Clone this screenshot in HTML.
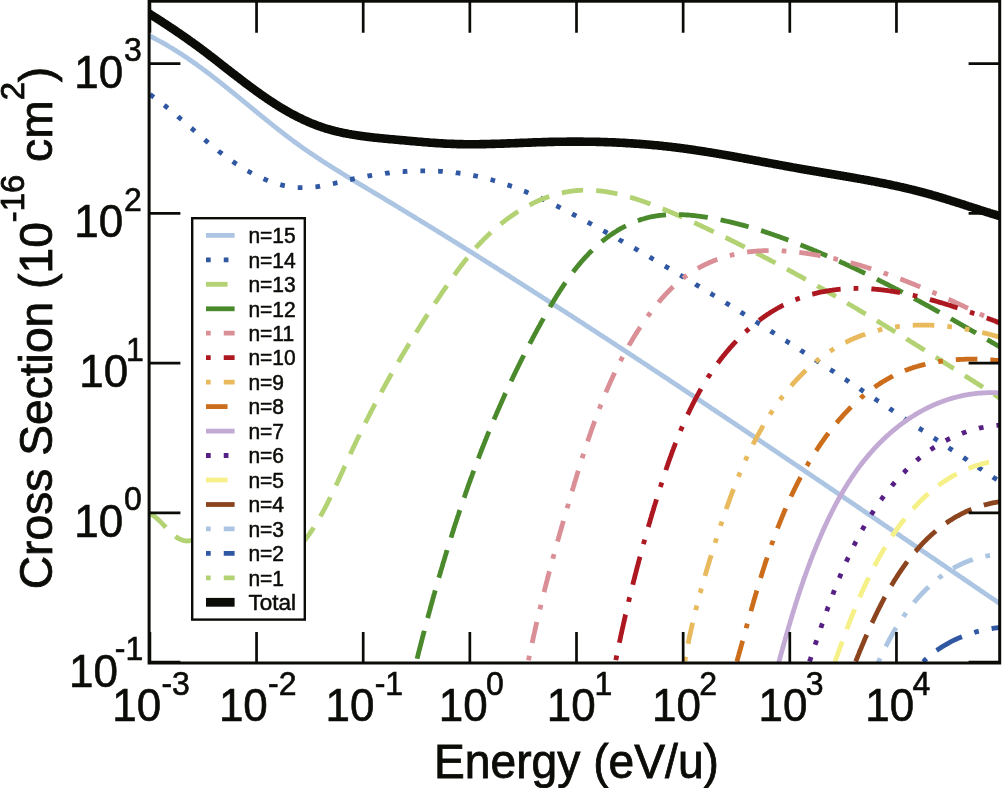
<!DOCTYPE html>
<html><head><meta charset="utf-8"><title>Cross Section</title>
<style>html,body{margin:0;padding:0;background:#fff}svg{display:block}text{font-family:"Liberation Sans",sans-serif;fill:#0b0b08}</style>
</head><body>
<svg width="1002" height="788" viewBox="0 0 1002 788">
<rect width="1002" height="788" fill="#fff"/>
<defs><clipPath id="pc"><rect x="149.1" y="1.2" width="850.6" height="661.8"/></clipPath></defs>
<g clip-path="url(#pc)" fill="none" stroke-linejoin="round">
<path d="M145.9 34.1 L146.8 34.5 L147.7 35.0 L148.6 35.4 L149.5 35.9 L150.5 36.3 L151.4 36.8 L152.3 37.2 L153.2 37.7 L154.1 38.1 L154.9 38.6 L155.8 39.1 L156.7 39.6 L157.6 40.0 L158.5 40.5 L159.4 41.0 L160.3 41.5 L161.2 42.0 L162.0 42.4 L162.9 42.9 L163.8 43.4 L164.7 43.9 L165.5 44.4 L166.4 44.9 L167.3 45.4 L168.1 46.0 L169.0 46.5 L169.9 47.0 L170.7 47.5 L171.6 48.0 L172.4 48.5 L173.3 49.1 L174.1 49.6 L175.0 50.1 L175.8 50.6 L176.7 51.2 L177.5 51.7 L178.4 52.2 L179.2 52.8 L180.1 53.3 L180.9 53.9 L181.8 54.4 L182.6 55.0 L183.4 55.5 L184.3 56.1 L185.1 56.6 L185.9 57.2 L186.8 57.7 L187.6 58.3 L188.4 58.9 L189.2 59.4 L190.1 60.0 L190.9 60.6 L191.7 61.1 L192.5 61.7 L193.3 62.3 L194.2 62.9 L195.0 63.4 L195.8 64.0 L196.6 64.6 L197.4 65.2 L198.2 65.8 L199.0 66.4 L199.8 67.0 L200.7 67.5 L201.5 68.1 L202.3 68.7 L203.1 69.3 L203.9 69.9 L204.7 70.5 L205.5 71.1 L206.3 71.7 L207.1 72.3 L207.9 72.9 L208.7 73.5 L209.5 74.1 L210.3 74.7 L211.1 75.3 L211.9 76.0 L212.7 76.6 L213.5 77.2 L214.2 77.8 L215.0 78.4 L215.8 79.0 L216.6 79.6 L217.4 80.2 L218.2 80.9 L219.0 81.5 L219.8 82.1 L220.6 82.7 L221.3 83.3 L222.1 84.0 L222.9 84.6 L223.7 85.2 L224.5 85.8 L225.3 86.5 L226.0 87.1 L226.8 87.7 L227.6 88.3 L228.4 89.0 L229.2 89.6 L229.9 90.2 L230.7 90.9 L231.5 91.5 L232.3 92.1 L233.1 92.8 L233.8 93.4 L234.6 94.0 L235.4 94.6 L236.2 95.3 L236.9 95.9 L237.7 96.5 L238.5 97.2 L239.3 97.8 L240.0 98.4 L240.8 99.1 L241.6 99.7 L242.4 100.4 L243.1 101.0 L243.9 101.6 L244.7 102.3 L245.5 102.9 L246.2 103.5 L247.0 104.2 L247.8 104.8 L248.6 105.4 L249.3 106.1 L250.1 106.7 L250.9 107.3 L251.7 108.0 L252.4 108.6 L253.2 109.3 L254.0 109.9 L254.8 110.5 L255.5 111.2 L256.3 111.8 L257.1 112.4 L257.9 113.1 L258.6 113.7 L259.4 114.3 L260.2 115.0 L261.0 115.6 L261.7 116.2 L262.5 116.9 L263.3 117.5 L264.1 118.1 L264.8 118.7 L265.6 119.4 L266.4 120.0 L267.2 120.6 L268.0 121.3 L268.7 121.9 L269.5 122.5 L270.3 123.1 L271.1 123.8 L271.9 124.4 L272.6 125.0 L273.4 125.6 L274.2 126.3 L275.0 126.9 L275.8 127.5 L276.6 128.1 L277.3 128.7 L278.1 129.4 L278.9 130.0 L279.7 130.6 L280.5 131.2 L281.3 131.8 L282.1 132.4 L282.9 133.0 L283.6 133.6 L284.4 134.3 L285.2 134.9 L286.0 135.5 L286.8 136.1 L287.6 136.7 L288.4 137.3 L289.2 137.9 L290.0 138.5 L290.8 139.1 L291.6 139.7 L292.4 140.3 L293.2 140.9 L294.0 141.5 L294.8 142.1 L295.6 142.6 L296.4 143.2 L297.2 143.8 L298.0 144.4 L298.8 145.0 L299.6 145.6 L300.5 146.2 L301.3 146.7 L302.1 147.3 L302.9 147.9 L303.7 148.5 L304.5 149.0 L305.3 149.6 L306.2 150.2 L307.0 150.7 L307.8 151.3 L308.6 151.9 L309.4 152.4 L310.3 153.0 L311.1 153.6 L311.9 154.1 L312.7 154.7 L313.6 155.2 L314.4 155.8 L315.2 156.3 L316.1 156.9 L316.9 157.4 L317.7 158.0 L318.6 158.5 L319.4 159.1 L320.2 159.6 L321.1 160.2 L321.9 160.7 L322.7 161.3 L323.6 161.8 L324.4 162.4 L325.3 162.9 L326.1 163.4 L326.9 164.0 L327.8 164.5 L328.6 165.0 L329.5 165.6 L330.3 166.1 L331.1 166.6 L332.0 167.2 L332.8 167.7 L333.7 168.2 L334.5 168.8 L335.4 169.3 L336.2 169.8 L337.1 170.3 L337.9 170.9 L338.8 171.4 L339.6 171.9 L340.5 172.4 L341.3 173.0 L342.2 173.5 L343.0 174.0 L343.9 174.5 L344.7 175.1 L345.6 175.6 L346.4 176.1 L347.3 176.6 L348.1 177.1 L349.0 177.7 L349.9 178.2 L350.7 178.7 L351.6 179.2 L352.4 179.7 L353.3 180.2 L354.1 180.8 L355.0 181.3 L355.8 181.8 L356.7 182.3 L357.6 182.8 L358.4 183.3 L359.3 183.8 L360.1 184.4 L361.0 184.9 L361.8 185.4 L362.7 185.9 L363.6 186.4 L364.4 186.9 L365.3 187.4 L366.1 187.9 L367.0 188.5 L367.9 189.0 L368.7 189.5 L369.6 190.0 L370.4 190.5 L371.3 191.0 L372.2 191.5 L373.0 192.1 L373.9 192.6 L374.7 193.1 L375.6 193.6 L376.4 194.1 L377.3 194.6 L378.2 195.1 L379.0 195.7 L379.9 196.2 L380.7 196.7 L381.6 197.2 L382.5 197.7 L383.3 198.2 L384.2 198.7 L385.0 199.3 L385.9 199.8 L386.7 200.3 L387.6 200.8 L388.5 201.3 L389.3 201.8 L390.2 202.4 L391.0 202.9 L391.9 203.4 L392.7 203.9 L393.6 204.4 L394.5 204.9 L395.3 205.5 L396.2 206.0 L397.0 206.5 L397.9 207.0 L398.7 207.5 L399.6 208.1 L400.4 208.6 L401.3 209.1 L402.2 209.6 L403.0 210.1 L403.9 210.7 L404.7 211.2 L405.6 211.7 L406.4 212.2 L407.3 212.7 L408.1 213.3 L409.0 213.8 L409.9 214.3 L410.7 214.8 L411.6 215.3 L412.4 215.9 L413.3 216.4 L414.1 216.9 L415.0 217.4 L415.8 217.9 L416.7 218.5 L417.5 219.0 L418.4 219.5 L419.3 220.0 L420.1 220.6 L421.0 221.1 L421.8 221.6 L422.7 222.1 L423.5 222.6 L424.4 223.2 L425.2 223.7 L426.1 224.2 L426.9 224.7 L427.8 225.3 L428.6 225.8 L429.5 226.3 L430.4 226.8 L431.2 227.4 L432.1 227.9 L432.9 228.4 L433.8 228.9 L434.6 229.5 L435.5 230.0 L436.3 230.5 L437.2 231.0 L438.0 231.6 L438.9 232.1 L439.7 232.6 L440.6 233.1 L441.4 233.7 L442.3 234.2 L443.1 234.7 L444.0 235.2 L444.8 235.8 L445.7 236.3 L446.5 236.8 L447.4 237.4 L448.2 237.9 L449.1 238.4 L450.0 238.9 L450.8 239.5 L451.7 240.0 L452.5 240.5 L453.4 241.1 L454.2 241.6 L455.1 242.1 L455.9 242.6 L456.8 243.2 L457.6 243.7 L458.5 244.2 L459.3 244.8 L460.2 245.3 L461.0 245.8 L461.9 246.3 L462.7 246.9 L463.6 247.4 L464.4 247.9 L465.3 248.5 L466.1 249.0 L467.0 249.5 L467.8 250.1 L468.7 250.6 L469.5 251.1 L470.4 251.7 L471.2 252.2 L472.1 252.7 L472.9 253.2 L473.8 253.8 L474.6 254.3 L475.5 254.8 L476.3 255.4 L477.2 255.9 L478.0 256.4 L478.8 257.0 L479.7 257.5 L480.5 258.0 L481.4 258.6 L482.2 259.1 L483.1 259.6 L483.9 260.2 L484.8 260.7 L485.6 261.2 L486.5 261.8 L487.3 262.3 L488.2 262.8 L489.0 263.4 L489.9 263.9 L490.7 264.4 L491.6 265.0 L492.4 265.5 L493.3 266.0 L494.1 266.6 L495.0 267.1 L495.8 267.6 L496.7 268.2 L497.5 268.7 L498.3 269.2 L499.2 269.8 L500.0 270.3 L500.9 270.9 L501.7 271.4 L502.6 271.9 L503.4 272.5 L504.3 273.0 L505.1 273.5 L506.0 274.1 L506.8 274.6 L507.7 275.1 L508.5 275.7 L509.4 276.2 L510.2 276.7 L511.0 277.3 L511.9 277.8 L512.7 278.4 L513.6 278.9 L514.4 279.4 L515.3 280.0 L516.1 280.5 L517.0 281.0 L517.8 281.6 L518.7 282.1 L519.5 282.7 L520.3 283.2 L521.2 283.7 L522.0 284.3 L522.9 284.8 L523.7 285.3 L524.6 285.9 L525.4 286.4 L526.3 287.0 L527.1 287.5 L527.9 288.0 L528.8 288.6 L529.6 289.1 L530.5 289.7 L531.3 290.2 L532.2 290.7 L533.0 291.3 L533.9 291.8 L534.7 292.4 L535.5 292.9 L536.4 293.4 L537.2 294.0 L538.1 294.5 L538.9 295.1 L539.8 295.6 L540.6 296.1 L541.5 296.7 L542.3 297.2 L543.1 297.8 L544.0 298.3 L544.8 298.8 L545.7 299.4 L546.5 299.9 L547.4 300.5 L548.2 301.0 L549.0 301.5 L549.9 302.1 L550.7 302.6 L551.6 303.2 L552.4 303.7 L553.3 304.3 L554.1 304.8 L554.9 305.3 L555.8 305.9 L556.6 306.4 L557.5 307.0 L558.3 307.5 L559.1 308.1 L560.0 308.6 L560.8 309.1 L561.7 309.7 L562.5 310.2 L563.4 310.8 L564.2 311.3 L565.0 311.9 L565.9 312.4 L566.7 312.9 L567.6 313.5 L568.4 314.0 L569.2 314.6 L570.1 315.1 L570.9 315.7 L571.8 316.2 L572.6 316.8 L573.5 317.3 L574.3 317.8 L575.1 318.4 L576.0 318.9 L576.8 319.5 L577.7 320.0 L578.5 320.6 L579.3 321.1 L580.2 321.7 L581.0 322.2 L581.9 322.7 L582.7 323.3 L583.5 323.8 L584.4 324.4 L585.2 324.9 L586.1 325.5 L586.9 326.0 L587.7 326.6 L588.6 327.1 L589.4 327.7 L590.3 328.2 L591.1 328.7 L591.9 329.3 L592.8 329.8 L593.6 330.4 L594.5 330.9 L595.3 331.5 L596.1 332.0 L597.0 332.6 L597.8 333.1 L598.7 333.7 L599.5 334.2 L600.3 334.8 L601.2 335.3 L602.0 335.9 L602.9 336.4 L603.7 337.0 L604.5 337.5 L605.4 338.0 L606.2 338.6 L607.1 339.1 L607.9 339.7 L608.7 340.2 L609.6 340.8 L610.4 341.3 L611.2 341.9 L612.1 342.4 L612.9 343.0 L613.8 343.5 L614.6 344.1 L615.4 344.6 L616.3 345.2 L617.1 345.7 L618.0 346.3 L618.8 346.8 L619.6 347.4 L620.5 347.9 L621.3 348.5 L622.1 349.0 L623.0 349.6 L623.8 350.1 L624.7 350.7 L625.5 351.2 L626.3 351.8 L627.2 352.3 L628.0 352.9 L628.8 353.4 L629.7 354.0 L630.5 354.5 L631.4 355.1 L632.2 355.6 L633.0 356.2 L633.9 356.7 L634.7 357.3 L635.5 357.8 L636.4 358.4 L637.2 358.9 L638.0 359.5 L638.9 360.0 L639.7 360.6 L640.6 361.1 L641.4 361.7 L642.2 362.2 L643.1 362.8 L643.9 363.3 L644.7 363.9 L645.6 364.4 L646.4 365.0 L647.3 365.5 L648.1 366.1 L648.9 366.6 L649.8 367.2 L650.6 367.7 L651.4 368.3 L652.3 368.8 L653.1 369.4 L653.9 370.0 L654.8 370.5 L655.6 371.1 L656.4 371.6 L657.3 372.2 L658.1 372.7 L659.0 373.3 L659.8 373.8 L660.6 374.4 L661.5 374.9 L662.3 375.5 L663.1 376.0 L664.0 376.6 L664.8 377.1 L665.6 377.7 L666.5 378.2 L667.3 378.8 L668.1 379.3 L669.0 379.9 L669.8 380.5 L670.6 381.0 L671.5 381.6 L672.3 382.1 L673.2 382.7 L674.0 383.2 L674.8 383.8 L675.7 384.3 L676.5 384.9 L677.3 385.4 L678.2 386.0 L679.0 386.6 L679.8 387.1 L680.7 387.7 L681.5 388.2 L682.3 388.8 L683.2 389.3 L684.0 389.9 L684.8 390.4 L685.7 391.0 L686.5 391.5 L687.3 392.1 L688.2 392.7 L689.0 393.2 L689.8 393.8 L690.7 394.3 L691.5 394.9 L692.3 395.4 L693.2 396.0 L694.0 396.5 L694.8 397.1 L695.7 397.6 L696.5 398.2 L697.3 398.8 L698.2 399.3 L699.0 399.9 L699.8 400.4 L700.7 401.0 L701.5 401.5 L702.4 402.1 L703.2 402.7 L704.0 403.2 L704.9 403.8 L705.7 404.3 L706.5 404.9 L707.4 405.4 L708.2 406.0 L709.0 406.5 L709.8 407.1 L710.7 407.7 L711.5 408.2 L712.3 408.8 L713.2 409.3 L714.0 409.9 L714.8 410.4 L715.7 411.0 L716.5 411.6 L717.3 412.1 L718.2 412.7 L719.0 413.2 L719.8 413.8 L720.7 414.3 L721.5 414.9 L722.3 415.5 L723.2 416.0 L724.0 416.6 L724.8 417.1 L725.7 417.7 L726.5 418.2 L727.3 418.8 L728.2 419.4 L729.0 419.9 L729.8 420.5 L730.7 421.0 L731.5 421.6 L732.3 422.2 L733.2 422.7 L734.0 423.3 L734.8 423.8 L735.7 424.4 L736.5 424.9 L737.3 425.5 L738.2 426.1 L739.0 426.6 L739.8 427.2 L740.6 427.7 L741.5 428.3 L742.3 428.9 L743.1 429.4 L744.0 430.0 L744.8 430.5 L745.6 431.1 L746.5 431.6 L747.3 432.2 L748.1 432.8 L749.0 433.3 L749.8 433.9 L750.6 434.4 L751.5 435.0 L752.3 435.6 L753.1 436.1 L754.0 436.7 L754.8 437.2 L755.6 437.8 L756.4 438.4 L757.3 438.9 L758.1 439.5 L758.9 440.0 L759.8 440.6 L760.6 441.2 L761.4 441.7 L762.3 442.3 L763.1 442.8 L763.9 443.4 L764.8 444.0 L765.6 444.5 L766.4 445.1 L767.3 445.6 L768.1 446.2 L768.9 446.8 L769.7 447.3 L770.6 447.9 L771.4 448.4 L772.2 449.0 L773.1 449.6 L773.9 450.1 L774.7 450.7 L775.6 451.2 L776.4 451.8 L777.2 452.4 L778.1 452.9 L778.9 453.5 L779.7 454.0 L780.5 454.6 L781.4 455.2 L782.2 455.7 L783.0 456.3 L783.9 456.8 L784.7 457.4 L785.5 458.0 L786.4 458.5 L787.2 459.1 L788.0 459.6 L788.8 460.2 L789.7 460.8 L790.5 461.3 L791.3 461.9 L792.2 462.4 L793.0 463.0 L793.8 463.6 L794.7 464.1 L795.5 464.7 L796.3 465.3 L797.1 465.8 L798.0 466.4 L798.8 466.9 L799.6 467.5 L800.5 468.1 L801.3 468.6 L802.1 469.2 L803.0 469.7 L803.8 470.3 L804.6 470.9 L805.4 471.4 L806.3 472.0 L807.1 472.6 L807.9 473.1 L808.8 473.7 L809.6 474.2 L810.4 474.8 L811.3 475.4 L812.1 475.9 L812.9 476.5 L813.7 477.0 L814.6 477.6 L815.4 478.2 L816.2 478.7 L817.1 479.3 L817.9 479.9 L818.7 480.4 L819.5 481.0 L820.4 481.5 L821.2 482.1 L822.0 482.7 L822.9 483.2 L823.7 483.8 L824.5 484.4 L825.4 484.9 L826.2 485.5 L827.0 486.0 L827.8 486.6 L828.7 487.2 L829.5 487.7 L830.3 488.3 L831.2 488.9 L832.0 489.4 L832.8 490.0 L833.6 490.5 L834.5 491.1 L835.3 491.7 L836.1 492.2 L837.0 492.8 L837.8 493.4 L838.6 493.9 L839.4 494.5 L840.3 495.0 L841.1 495.6 L841.9 496.2 L842.8 496.7 L843.6 497.3 L844.4 497.9 L845.2 498.4 L846.1 499.0 L846.9 499.5 L847.7 500.1 L848.6 500.7 L849.4 501.2 L850.2 501.8 L851.0 502.4 L851.9 502.9 L852.7 503.5 L853.5 504.0 L854.4 504.6 L855.2 505.2 L856.0 505.7 L856.8 506.3 L857.7 506.9 L858.5 507.4 L859.3 508.0 L860.2 508.6 L861.0 509.1 L861.8 509.7 L862.6 510.2 L863.5 510.8 L864.3 511.4 L865.1 511.9 L866.0 512.5 L866.8 513.1 L867.6 513.6 L868.4 514.2 L869.3 514.8 L870.1 515.3 L870.9 515.9 L871.8 516.4 L872.6 517.0 L873.4 517.6 L874.2 518.1 L875.1 518.7 L875.9 519.3 L876.7 519.8 L877.6 520.4 L878.4 520.9 L879.2 521.5 L880.0 522.1 L880.9 522.6 L881.7 523.2 L882.5 523.8 L883.4 524.3 L884.2 524.9 L885.0 525.5 L885.8 526.0 L886.7 526.6 L887.5 527.1 L888.3 527.7 L889.2 528.3 L890.0 528.8 L890.8 529.4 L891.6 530.0 L892.5 530.5 L893.3 531.1 L894.1 531.7 L895.0 532.2 L895.8 532.8 L896.6 533.3 L897.4 533.9 L898.3 534.5 L899.1 535.0 L899.9 535.6 L900.8 536.2 L901.6 536.7 L902.4 537.3 L903.2 537.9 L904.1 538.4 L904.9 539.0 L905.7 539.5 L906.5 540.1 L907.4 540.7 L908.2 541.2 L909.0 541.8 L909.9 542.4 L910.7 542.9 L911.5 543.5 L912.3 544.1 L913.2 544.6 L914.0 545.2 L914.8 545.7 L915.7 546.3 L916.5 546.9 L917.3 547.4 L918.1 548.0 L919.0 548.6 L919.8 549.1 L920.6 549.7 L921.5 550.3 L922.3 550.8 L923.1 551.4 L923.9 552.0 L924.8 552.5 L925.6 553.1 L926.4 553.6 L927.2 554.2 L928.1 554.8 L928.9 555.3 L929.7 555.9 L930.6 556.5 L931.4 557.0 L932.2 557.6 L933.0 558.2 L933.9 558.7 L934.7 559.3 L935.5 559.8 L936.4 560.4 L937.2 561.0 L938.0 561.5 L938.8 562.1 L939.7 562.7 L940.5 563.2 L941.3 563.8 L942.2 564.4 L943.0 564.9 L943.8 565.5 L944.6 566.0 L945.5 566.6 L946.3 567.2 L947.1 567.7 L948.0 568.3 L948.8 568.9 L949.6 569.4 L950.4 570.0 L951.3 570.6 L952.1 571.1 L952.9 571.7 L953.7 572.2 L954.6 572.8 L955.4 573.4 L956.2 573.9 L957.1 574.5 L957.9 575.1 L958.7 575.6 L959.5 576.2 L960.4 576.8 L961.2 577.3 L962.0 577.9 L962.9 578.4 L963.7 579.0 L964.5 579.6 L965.3 580.1 L966.2 580.7 L967.0 581.3 L967.8 581.8 L968.7 582.4 L969.5 582.9 L970.3 583.5 L971.1 584.1 L972.0 584.6 L972.8 585.2 L973.6 585.8 L974.4 586.3 L975.3 586.9 L976.1 587.5 L976.9 588.0 L977.8 588.6 L978.6 589.1 L979.4 589.7 L980.2 590.3 L981.1 590.8 L981.9 591.4 L982.7 592.0 L983.6 592.5 L984.4 593.1 L985.2 593.7 L986.0 594.2 L986.9 594.8 L987.7 595.3 L988.5 595.9 L989.4 596.5 L990.2 597.0 L991.0 597.6 L991.8 598.2 L992.7 598.7 L993.5 599.3 L994.3 599.8 L995.2 600.4 L996.0 601.0 L996.8 601.5 L997.6 602.1 L998.5 602.7 L999.3 603.2 L1000.1 603.8 L1001.0 604.3 L1001.8 604.9 L1002.6 605.5 L1003.4 606.0 L1004.3 606.6" stroke="#acc5e2" stroke-width="4.8"/>
<path d="M145.8 91.6 L146.6 92.1 L147.4 92.7 L148.3 93.3 L149.1 93.9 L149.9 94.4 L150.8 95.0 L151.6 95.6 L152.4 96.2 L153.2 96.8 L154.0 97.4 L154.8 98.0 L155.7 98.6 L156.5 99.2 L157.3 99.8 L158.1 100.4 L158.9 101.0 L159.7 101.6 L160.5 102.2 L161.2 102.8 L162.0 103.4 L162.8 104.0 L163.6 104.7 L164.4 105.3 L165.2 105.9 L166.0 106.5 L166.7 107.2 L167.5 107.8 L168.3 108.4 L169.1 109.0 L169.8 109.7 L170.6 110.3 L171.4 111.0 L172.1 111.6 L172.9 112.2 L173.7 112.9 L174.4 113.5 L175.2 114.2 L175.9 114.8 L176.7 115.5 L177.5 116.1 L178.2 116.8 L179.0 117.4 L179.7 118.1 L180.5 118.7 L181.2 119.4 L182.0 120.0 L182.8 120.7 L183.5 121.3 L184.3 122.0 L185.0 122.6 L185.8 123.3 L186.5 123.9 L187.3 124.6 L188.0 125.3 L188.8 125.9 L189.5 126.6 L190.3 127.2 L191.0 127.9 L191.8 128.5 L192.5 129.2 L193.3 129.8 L194.0 130.5 L194.8 131.2 L195.5 131.8 L196.3 132.5 L197.0 133.1 L197.8 133.8 L198.5 134.4 L199.3 135.1 L200.0 135.7 L200.8 136.4 L201.6 137.0 L202.3 137.7 L203.1 138.3 L203.8 139.0 L204.6 139.6 L205.4 140.3 L206.1 140.9 L206.9 141.6 L207.6 142.2 L208.4 142.9 L209.2 143.5 L210.0 144.1 L210.7 144.8 L211.5 145.4 L212.3 146.0 L213.0 146.7 L213.8 147.3 L214.6 147.9 L215.4 148.6 L216.2 149.2 L217.0 149.8 L217.7 150.4 L218.5 151.1 L219.3 151.7 L220.1 152.3 L220.9 152.9 L221.7 153.5 L222.5 154.1 L223.3 154.7 L224.1 155.3 L224.9 155.9 L225.7 156.5 L226.5 157.1 L227.4 157.7 L228.2 158.3 L229.0 158.9 L229.8 159.5 L230.7 160.1 L231.5 160.7 L232.3 161.2 L233.2 161.8 L234.0 162.4 L234.8 162.9 L235.7 163.5 L236.5 164.1 L237.4 164.6 L238.2 165.2 L239.1 165.7 L240.0 166.3 L240.8 166.8 L241.7 167.4 L242.6 167.9 L243.4 168.4 L244.3 168.9 L245.2 169.5 L246.1 170.0 L247.0 170.5 L247.9 171.0 L248.7 171.5 L249.6 172.0 L250.5 172.5 L251.4 173.0 L252.3 173.5 L253.2 173.9 L254.1 174.4 L255.0 174.9 L256.0 175.3 L256.9 175.8 L257.8 176.2 L258.7 176.7 L259.6 177.1 L260.5 177.5 L261.5 177.9 L262.4 178.3 L263.3 178.7 L264.2 179.1 L265.2 179.5 L266.1 179.9 L267.0 180.3 L268.0 180.7 L268.9 181.0 L269.9 181.4 L270.8 181.7 L271.7 182.0 L272.7 182.4 L273.6 182.7 L274.6 183.0 L275.5 183.3 L276.5 183.6 L277.4 183.9 L278.4 184.1 L279.3 184.4 L280.3 184.7 L281.2 184.9 L282.2 185.2 L283.2 185.4 L284.1 185.6 L285.1 185.8 L286.0 186.0 L287.0 186.2 L288.0 186.4 L288.9 186.5 L289.9 186.7 L290.9 186.8 L291.8 187.0 L292.8 187.1 L293.7 187.2 L294.7 187.3 L295.7 187.4 L296.7 187.5 L297.6 187.6 L298.6 187.6 L299.6 187.7 L300.5 187.7 L301.5 187.7 L302.5 187.7 L303.4 187.7 L304.4 187.7 L305.4 187.7 L306.4 187.7 L307.3 187.6 L308.3 187.6 L309.3 187.5 L310.2 187.4 L311.2 187.3 L312.2 187.2 L313.2 187.1 L314.1 187.0 L315.1 186.9 L316.1 186.8 L317.0 186.7 L318.0 186.5 L319.0 186.4 L320.0 186.2 L320.9 186.0 L321.9 185.9 L322.9 185.7 L323.9 185.5 L324.9 185.3 L325.8 185.2 L326.8 185.0 L327.8 184.8 L328.8 184.6 L329.7 184.4 L330.7 184.1 L331.7 183.9 L332.7 183.7 L333.7 183.5 L334.7 183.3 L335.6 183.0 L336.6 182.8 L337.6 182.6 L338.6 182.4 L339.6 182.1 L340.6 181.9 L341.5 181.7 L342.5 181.4 L343.5 181.2 L344.5 181.0 L345.5 180.7 L346.5 180.5 L347.5 180.3 L348.4 180.0 L349.4 179.8 L350.4 179.6 L351.4 179.3 L352.4 179.1 L353.4 178.9 L354.4 178.7 L355.4 178.5 L356.4 178.3 L357.4 178.0 L358.4 177.8 L359.4 177.6 L360.4 177.4 L361.4 177.2 L362.4 177.0 L363.3 176.8 L364.3 176.7 L365.3 176.5 L366.3 176.3 L367.3 176.1 L368.3 175.9 L369.3 175.8 L370.3 175.6 L371.3 175.4 L372.3 175.2 L373.3 175.1 L374.3 174.9 L375.3 174.8 L376.4 174.6 L377.4 174.4 L378.4 174.3 L379.4 174.2 L380.4 174.0 L381.4 173.9 L382.4 173.7 L383.4 173.6 L384.4 173.5 L385.4 173.3 L386.4 173.2 L387.4 173.1 L388.4 173.0 L389.4 172.9 L390.4 172.7 L391.4 172.6 L392.4 172.5 L393.4 172.4 L394.4 172.3 L395.4 172.2 L396.4 172.1 L397.4 172.0 L398.5 171.9 L399.5 171.9 L400.5 171.8 L401.5 171.7 L402.5 171.6 L403.5 171.6 L404.5 171.5 L405.5 171.4 L406.5 171.4 L407.5 171.3 L408.5 171.2 L409.5 171.2 L410.5 171.1 L411.5 171.1 L412.5 171.1 L413.5 171.0 L414.5 171.0 L415.5 171.0 L416.5 170.9 L417.6 170.9 L418.6 170.9 L419.6 170.9 L420.6 170.9 L421.6 170.8 L422.6 170.8 L423.6 170.8 L424.6 170.8 L425.6 170.8 L426.6 170.8 L427.6 170.9 L428.6 170.9 L429.6 170.9 L430.6 170.9 L431.6 170.9 L432.6 171.0 L433.6 171.0 L434.6 171.0 L435.6 171.1 L436.6 171.1 L437.6 171.2 L438.6 171.2 L439.5 171.3 L440.5 171.3 L441.5 171.4 L442.5 171.4 L443.5 171.5 L444.5 171.6 L445.5 171.7 L446.5 171.7 L447.5 171.8 L448.5 171.9 L449.5 172.0 L450.5 172.1 L451.4 172.2 L452.4 172.3 L453.4 172.4 L454.4 172.5 L455.4 172.6 L456.4 172.8 L457.4 172.9 L458.3 173.0 L459.3 173.1 L460.3 173.3 L461.3 173.4 L462.3 173.6 L463.3 173.7 L464.2 173.9 L465.2 174.0 L466.2 174.2 L467.2 174.3 L468.1 174.5 L469.1 174.7 L470.1 174.9 L471.1 175.0 L472.0 175.2 L473.0 175.4 L474.0 175.6 L474.9 175.8 L475.9 176.0 L476.9 176.2 L477.8 176.4 L478.8 176.6 L479.8 176.8 L480.7 177.1 L481.7 177.3 L482.6 177.5 L483.6 177.7 L484.6 178.0 L485.5 178.2 L486.5 178.5 L487.4 178.7 L488.4 179.0 L489.3 179.2 L490.3 179.5 L491.2 179.7 L492.2 180.0 L493.1 180.3 L494.1 180.6 L495.0 180.8 L496.0 181.1 L496.9 181.4 L497.9 181.7 L498.8 182.0 L499.8 182.3 L500.7 182.6 L501.7 182.9 L502.6 183.2 L503.5 183.5 L504.5 183.8 L505.4 184.1 L506.4 184.4 L507.3 184.8 L508.2 185.1 L509.2 185.4 L510.1 185.7 L511.0 186.1 L512.0 186.4 L512.9 186.8 L513.8 187.1 L514.8 187.4 L515.7 187.8 L516.6 188.1 L517.5 188.5 L518.5 188.9 L519.4 189.2 L520.3 189.6 L521.3 189.9 L522.2 190.3 L523.1 190.7 L524.0 191.1 L524.9 191.4 L525.9 191.8 L526.8 192.2 L527.7 192.6 L528.6 193.0 L529.5 193.4 L530.5 193.7 L531.4 194.1 L532.3 194.5 L533.2 194.9 L534.1 195.3 L535.0 195.7 L536.0 196.1 L536.9 196.5 L537.8 197.0 L538.7 197.4 L539.6 197.8 L540.5 198.2 L541.4 198.6 L542.3 199.0 L543.3 199.5 L544.2 199.9 L545.1 200.3 L546.0 200.7 L546.9 201.2 L547.8 201.6 L548.7 202.0 L549.6 202.5 L550.5 202.9 L551.4 203.3 L552.3 203.8 L553.2 204.2 L554.1 204.7 L555.0 205.1 L555.9 205.6 L556.8 206.0 L557.7 206.4 L558.6 206.9 L559.5 207.4 L560.4 207.8 L561.3 208.3 L562.2 208.7 L563.1 209.2 L564.0 209.6 L564.9 210.1 L565.8 210.6 L566.7 211.0 L567.6 211.5 L568.5 211.9 L569.4 212.4 L570.3 212.9 L571.2 213.3 L572.1 213.8 L573.0 214.3 L573.9 214.8 L574.8 215.2 L575.6 215.7 L576.5 216.2 L577.4 216.6 L578.3 217.1 L579.2 217.6 L580.1 218.1 L581.0 218.6 L581.9 219.0 L582.8 219.5 L583.7 220.0 L584.5 220.5 L585.4 220.9 L586.3 221.4 L587.2 221.9 L588.1 222.4 L589.0 222.9 L589.9 223.4 L590.8 223.8 L591.6 224.3 L592.5 224.8 L593.4 225.3 L594.3 225.8 L595.2 226.3 L596.1 226.7 L596.9 227.2 L597.8 227.7 L598.7 228.2 L599.6 228.7 L600.5 229.2 L601.4 229.7 L602.2 230.1 L603.1 230.6 L604.0 231.1 L604.9 231.6 L605.8 232.1 L606.6 232.6 L607.5 233.1 L608.4 233.6 L609.3 234.1 L610.2 234.6 L611.0 235.0 L611.9 235.5 L612.8 236.0 L613.7 236.5 L614.6 237.0 L615.4 237.5 L616.3 238.0 L617.2 238.5 L618.1 239.0 L618.9 239.5 L619.8 240.0 L620.7 240.5 L621.6 241.0 L622.5 241.4 L623.3 241.9 L624.2 242.4 L625.1 242.9 L626.0 243.4 L626.8 243.9 L627.7 244.4 L628.6 244.9 L629.5 245.4 L630.3 245.9 L631.2 246.4 L632.1 246.9 L632.9 247.4 L633.8 247.9 L634.7 248.4 L635.6 248.9 L636.4 249.4 L637.3 249.9 L638.2 250.4 L639.0 250.9 L639.9 251.4 L640.8 251.9 L641.7 252.4 L642.5 252.9 L643.4 253.4 L644.3 253.9 L645.1 254.4 L646.0 254.9 L646.9 255.4 L647.7 255.9 L648.6 256.4 L649.5 256.9 L650.3 257.4 L651.2 257.9 L652.1 258.5 L652.9 259.0 L653.8 259.5 L654.7 260.0 L655.5 260.5 L656.4 261.0 L657.3 261.5 L658.1 262.0 L659.0 262.5 L659.9 263.0 L660.7 263.5 L661.6 264.0 L662.5 264.5 L663.3 265.0 L664.2 265.6 L665.1 266.1 L665.9 266.6 L666.8 267.1 L667.7 267.6 L668.5 268.1 L669.4 268.6 L670.2 269.1 L671.1 269.6 L672.0 270.1 L672.8 270.7 L673.7 271.2 L674.6 271.7 L675.4 272.2 L676.3 272.7 L677.1 273.2 L678.0 273.7 L678.9 274.2 L679.7 274.8 L680.6 275.3 L681.4 275.8 L682.3 276.3 L683.2 276.8 L684.0 277.3 L684.9 277.8 L685.7 278.4 L686.6 278.9 L687.5 279.4 L688.3 279.9 L689.2 280.4 L690.0 280.9 L690.9 281.5 L691.7 282.0 L692.6 282.5 L693.5 283.0 L694.3 283.5 L695.2 284.0 L696.0 284.6 L696.9 285.1 L697.7 285.6 L698.6 286.1 L699.4 286.6 L700.3 287.2 L701.2 287.7 L702.0 288.2 L702.9 288.7 L703.7 289.2 L704.6 289.8 L705.4 290.3 L706.3 290.8 L707.1 291.3 L708.0 291.9 L708.8 292.4 L709.7 292.9 L710.6 293.4 L711.4 293.9 L712.3 294.5 L713.1 295.0 L714.0 295.5 L714.8 296.0 L715.7 296.6 L716.5 297.1 L717.4 297.6 L718.2 298.1 L719.1 298.7 L719.9 299.2 L720.8 299.7 L721.6 300.2 L722.5 300.8 L723.3 301.3 L724.2 301.8 L725.0 302.3 L725.9 302.9 L726.7 303.4 L727.6 303.9 L728.4 304.4 L729.3 305.0 L730.1 305.5 L731.0 306.0 L731.8 306.6 L732.7 307.1 L733.5 307.6 L734.4 308.1 L735.2 308.7 L736.1 309.2 L736.9 309.7 L737.8 310.3 L738.6 310.8 L739.5 311.3 L740.3 311.8 L741.2 312.4 L742.0 312.9 L742.9 313.4 L743.7 314.0 L744.6 314.5 L745.4 315.0 L746.2 315.6 L747.1 316.1 L747.9 316.6 L748.8 317.2 L749.6 317.7 L750.5 318.2 L751.3 318.8 L752.2 319.3 L753.0 319.8 L753.9 320.4 L754.7 320.9 L755.5 321.4 L756.4 322.0 L757.2 322.5 L758.1 323.0 L758.9 323.6 L759.8 324.1 L760.6 324.6 L761.5 325.2 L762.3 325.7 L763.1 326.2 L764.0 326.8 L764.8 327.3 L765.7 327.8 L766.5 328.4 L767.4 328.9 L768.2 329.4 L769.1 330.0 L769.9 330.5 L770.7 331.1 L771.6 331.6 L772.4 332.1 L773.3 332.7 L774.1 333.2 L774.9 333.7 L775.8 334.3 L776.6 334.8 L777.5 335.4 L778.3 335.9 L779.2 336.4 L780.0 337.0 L780.8 337.5 L781.7 338.0 L782.5 338.6 L783.4 339.1 L784.2 339.7 L785.0 340.2 L785.9 340.7 L786.7 341.3 L787.6 341.8 L788.4 342.4 L789.2 342.9 L790.1 343.4 L790.9 344.0 L791.8 344.5 L792.6 345.1 L793.4 345.6 L794.3 346.2 L795.1 346.7 L796.0 347.2 L796.8 347.8 L797.6 348.3 L798.5 348.9 L799.3 349.4 L800.2 349.9 L801.0 350.5 L801.8 351.0 L802.7 351.6 L803.5 352.1 L804.4 352.7 L805.2 353.2 L806.0 353.7 L806.9 354.3 L807.7 354.8 L808.5 355.4 L809.4 355.9 L810.2 356.5 L811.1 357.0 L811.9 357.5 L812.7 358.1 L813.6 358.6 L814.4 359.2 L815.3 359.7 L816.1 360.3 L816.9 360.8 L817.8 361.4 L818.6 361.9 L819.4 362.5 L820.3 363.0 L821.1 363.5 L822.0 364.1 L822.8 364.6 L823.6 365.2 L824.5 365.7 L825.3 366.3 L826.1 366.8 L827.0 367.4 L827.8 367.9 L828.6 368.5 L829.5 369.0 L830.3 369.5 L831.2 370.1 L832.0 370.6 L832.8 371.2 L833.7 371.7 L834.5 372.3 L835.3 372.8 L836.2 373.4 L837.0 373.9 L837.8 374.5 L838.7 375.0 L839.5 375.6 L840.4 376.1 L841.2 376.7 L842.0 377.2 L842.9 377.8 L843.7 378.3 L844.5 378.9 L845.4 379.4 L846.2 380.0 L847.0 380.5 L847.9 381.1 L848.7 381.6 L849.5 382.2 L850.4 382.7 L851.2 383.3 L852.0 383.8 L852.9 384.4 L853.7 384.9 L854.6 385.4 L855.4 386.0 L856.2 386.5 L857.1 387.1 L857.9 387.6 L858.7 388.2 L859.6 388.7 L860.4 389.3 L861.2 389.8 L862.1 390.4 L862.9 391.0 L863.7 391.5 L864.6 392.1 L865.4 392.6 L866.2 393.2 L867.1 393.7 L867.9 394.3 L868.7 394.8 L869.6 395.4 L870.4 395.9 L871.2 396.5 L872.1 397.0 L872.9 397.6 L873.7 398.1 L874.6 398.7 L875.4 399.2 L876.3 399.8 L877.1 400.3 L877.9 400.9 L878.8 401.4 L879.6 402.0 L880.4 402.5 L881.3 403.1 L882.1 403.6 L882.9 404.2 L883.8 404.7 L884.6 405.3 L885.4 405.8 L886.3 406.4 L887.1 406.9 L887.9 407.5 L888.8 408.0 L889.6 408.6 L890.4 409.2 L891.3 409.7 L892.1 410.3 L892.9 410.8 L893.8 411.4 L894.6 411.9 L895.4 412.5 L896.3 413.0 L897.1 413.6 L897.9 414.1 L898.8 414.7 L899.6 415.2 L900.4 415.8 L901.3 416.3 L902.1 416.9 L903.0 417.4 L903.8 418.0 L904.6 418.6 L905.5 419.1 L906.3 419.7 L907.1 420.2 L908.0 420.8 L908.8 421.3 L909.6 421.9 L910.5 422.4 L911.3 423.0 L912.1 423.5 L913.0 424.1 L913.8 424.6 L914.6 425.2 L915.5 425.8 L916.3 426.3 L917.1 426.9 L918.0 427.4 L918.8 428.0 L919.6 428.5 L920.5 429.1 L921.3 429.6 L922.1 430.2 L923.0 430.7 L923.8 431.3 L924.7 431.8 L925.5 432.4 L926.3 433.0 L927.2 433.5 L928.0 434.1 L928.8 434.6 L929.7 435.2 L930.5 435.7 L931.3 436.3 L932.2 436.8 L933.0 437.4 L933.8 437.9 L934.7 438.5 L935.5 439.0 L936.3 439.6 L937.2 440.2 L938.0 440.7 L938.9 441.3 L939.7 441.8 L940.5 442.4 L941.4 442.9 L942.2 443.5 L943.0 444.0 L943.9 444.6 L944.7 445.1 L945.5 445.7 L946.4 446.3 L947.2 446.8 L948.1 447.4 L948.9 447.9 L949.7 448.5 L950.6 449.0 L951.4 449.6 L952.2 450.1 L953.1 450.7 L953.9 451.2 L954.7 451.8 L955.6 452.3 L956.4 452.9 L957.3 453.5 L958.1 454.0 L958.9 454.6 L959.8 455.1 L960.6 455.7 L961.4 456.2 L962.3 456.8 L963.1 457.3 L964.0 457.9 L964.8 458.4 L965.6 459.0 L966.5 459.5 L967.3 460.1 L968.1 460.7 L969.0 461.2 L969.8 461.8 L970.7 462.3 L971.5 462.9 L972.3 463.4 L973.2 464.0 L974.0 464.5 L974.9 465.1 L975.7 465.6 L976.5 466.2 L977.4 466.7 L978.2 467.3 L979.0 467.9 L979.9 468.4 L980.7 469.0 L981.6 469.5 L982.4 470.1 L983.2 470.6 L984.1 471.2 L984.9 471.7 L985.8 472.3 L986.6 472.8 L987.4 473.4 L988.3 473.9 L989.1 474.5 L990.0 475.0 L990.8 475.6 L991.6 476.1 L992.5 476.7 L993.3 477.3 L994.2 477.8 L995.0 478.4 L995.8 478.9 L996.7 479.5 L997.5 480.0 L998.4 480.6 L999.2 481.1 L1000.1 481.7 L1000.9 482.2 L1001.7 482.8 L1002.6 483.3 L1003.4 483.9 L1004.3 484.4" stroke="#2f57a2" stroke-width="4.8" stroke-dasharray="4.70 13.05" stroke-dashoffset="12.6"/>
<path d="M149.6 513.5 L150.5 514.0 L151.4 514.5 L152.3 515.0 L153.1 515.5 L153.9 516.1 L154.7 516.7 L155.5 517.3 L156.3 517.9 L157.1 518.6 L157.9 519.3 L158.6 520.0 L159.4 520.7 L160.1 521.4 L160.8 522.1 L161.6 522.9 L162.3 523.6 L163.0 524.4 L163.7 525.1 L164.4 525.9 L165.2 526.6 L165.9 527.4 L166.6 528.2 L167.3 528.9 L168.0 529.7 L168.7 530.4 L169.5 531.1 L170.2 531.9 L170.9 532.6 L171.7 533.3 L172.4 533.9 L173.2 534.6 L174.0 535.2 L174.7 535.9 L175.5 536.5 L176.4 537.0 L177.2 537.6 L178.0 538.1 L178.9 538.6 L179.7 539.0 L180.6 539.4 L181.5 539.8 L182.4 540.1 L183.3 540.4 L184.2 540.6 L185.2 540.8 L186.1 540.9 L187.1 541.0 L188.0 540.9 L189.0 540.8 L190.0 540.7 L191.0 540.5 L192.0 540.1 L193.0 539.7 L194.0 539.3 L195.1 538.7 L196.1 538.0 L197.1 537.3" stroke="#b3d274" stroke-width="4.8" stroke-dasharray="21.55 13.05" stroke-dashoffset="0.0"/>
<path d="M288.6 556.6 L289.4 555.9 L290.1 555.3 L290.9 554.6 L291.7 554.0 L292.4 553.3 L293.2 552.6 L293.9 551.9 L294.6 551.3 L295.4 550.6 L296.1 549.9 L296.8 549.2 L297.5 548.4 L298.2 547.7 L298.9 547.0 L299.5 546.3 L300.2 545.5 L300.9 544.8 L301.5 544.0 L302.2 543.3 L302.8 542.5 L303.4 541.8 L304.1 541.0 L304.7 540.2 L305.3 539.5 L305.9 538.7 L306.5 537.9 L307.1 537.1 L307.7 536.3 L308.3 535.5 L308.9 534.7 L309.4 533.9 L310.0 533.1 L310.6 532.3 L311.1 531.5 L311.7 530.7 L312.2 529.8 L312.8 529.0 L313.3 528.2 L313.8 527.4 L314.4 526.5 L314.9 525.7 L315.4 524.8 L315.9 524.0 L316.5 523.2 L317.0 522.3 L317.5 521.4 L318.0 520.6 L318.5 519.7 L319.0 518.9 L319.5 518.0 L320.0 517.2 L320.5 516.3 L320.9 515.4 L321.4 514.6 L321.9 513.7 L322.4 512.8 L322.9 511.9 L323.3 511.1 L323.8 510.2 L324.3 509.3 L324.7 508.4 L325.2 507.5 L325.7 506.7 L326.1 505.8 L326.6 504.9 L327.0 504.0 L327.5 503.1 L327.9 502.2 L328.4 501.3 L328.8 500.4 L329.3 499.5 L329.7 498.6 L330.2 497.7 L330.6 496.8 L331.1 495.9 L331.5 495.0 L331.9 494.1 L332.4 493.2 L332.8 492.3 L333.2 491.4 L333.7 490.5 L334.1 489.6 L334.5 488.7 L334.9 487.8 L335.4 486.9 L335.8 486.0 L336.2 485.1 L336.6 484.2 L337.0 483.3 L337.5 482.3 L337.9 481.4 L338.3 480.5 L338.7 479.6 L339.1 478.7 L339.6 477.8 L340.0 476.9 L340.4 475.9 L340.8 475.0 L341.2 474.1 L341.6 473.2 L342.1 472.3 L342.5 471.4 L342.9 470.4 L343.3 469.5 L343.7 468.6 L344.1 467.7 L344.5 466.8 L345.0 465.9 L345.4 464.9 L345.8 464.0 L346.2 463.1 L346.6 462.2 L347.0 461.3 L347.4 460.4 L347.9 459.4 L348.3 458.5 L348.7 457.6 L349.1 456.7 L349.5 455.8 L350.0 454.9 L350.4 454.0 L350.8 453.0 L351.2 452.1 L351.6 451.2 L352.1 450.3 L352.5 449.4 L352.9 448.5 L353.3 447.6 L353.8 446.7 L354.2 445.8 L354.6 444.9 L355.1 444.0 L355.5 443.0 L355.9 442.1 L356.3 441.2 L356.8 440.3 L357.2 439.4 L357.6 438.5 L358.1 437.6 L358.5 436.7 L359.0 435.8 L359.4 434.9 L359.8 434.0 L360.3 433.1 L360.7 432.2 L361.2 431.3 L361.6 430.4 L362.0 429.5 L362.5 428.6 L362.9 427.7 L363.4 426.8 L363.8 425.9 L364.3 425.0 L364.7 424.1 L365.2 423.2 L365.6 422.3 L366.1 421.4 L366.5 420.5 L367.0 419.6 L367.4 418.8 L367.9 417.9 L368.3 417.0 L368.8 416.1 L369.2 415.2 L369.7 414.3 L370.1 413.4 L370.6 412.5 L371.0 411.6 L371.5 410.7 L372.0 409.8 L372.4 409.0 L372.9 408.1 L373.4 407.2 L373.8 406.3 L374.3 405.4 L374.7 404.5 L375.2 403.6 L375.7 402.8 L376.1 401.9 L376.6 401.0 L377.1 400.1 L377.5 399.2 L378.0 398.3 L378.5 397.5 L379.0 396.6 L379.4 395.7 L379.9 394.8 L380.4 393.9 L380.9 393.1 L381.3 392.2 L381.8 391.3 L382.3 390.4 L382.8 389.5 L383.2 388.7 L383.7 387.8 L384.2 386.9 L384.7 386.0 L385.2 385.2 L385.6 384.3 L386.1 383.4 L386.6 382.5 L387.1 381.7 L387.6 380.8 L388.1 379.9 L388.6 379.1 L389.1 378.2 L389.5 377.3 L390.0 376.4 L390.5 375.6 L391.0 374.7 L391.5 373.8 L392.0 373.0 L392.5 372.1 L393.0 371.2 L393.5 370.4 L394.0 369.5 L394.5 368.6 L395.0 367.8 L395.5 366.9 L396.0 366.0 L396.5 365.2 L397.0 364.3 L397.5 363.4 L398.0 362.6 L398.5 361.7 L399.0 360.8 L399.5 360.0 L400.0 359.1 L400.5 358.3 L401.0 357.4 L401.5 356.5 L402.0 355.7 L402.5 354.8 L403.0 354.0 L403.6 353.1 L404.1 352.2 L404.6 351.4 L405.1 350.5 L405.6 349.7 L406.1 348.8 L406.6 347.9 L407.2 347.1 L407.7 346.2 L408.2 345.4 L408.7 344.5 L409.2 343.7 L409.8 342.8 L410.3 342.0 L410.8 341.1 L411.3 340.3 L411.8 339.4 L412.4 338.6 L412.9 337.7 L413.4 336.9 L413.9 336.0 L414.5 335.1 L415.0 334.3 L415.5 333.5 L416.1 332.6 L416.6 331.8 L417.1 330.9 L417.7 330.1 L418.2 329.2 L418.7 328.4 L419.3 327.5 L419.8 326.7 L420.3 325.8 L420.9 325.0 L421.4 324.1 L421.9 323.3 L422.5 322.4 L423.0 321.6 L423.5 320.8 L424.1 319.9 L424.6 319.1 L425.2 318.2 L425.7 317.4 L426.3 316.6 L426.8 315.7 L427.3 314.9 L427.9 314.0 L428.4 313.2 L429.0 312.4 L429.5 311.5 L430.1 310.7 L430.6 309.8 L431.2 309.0 L431.7 308.2 L432.3 307.3 L432.8 306.5 L433.4 305.7 L433.9 304.8 L434.5 304.0 L435.0 303.2 L435.6 302.3 L436.1 301.5 L436.7 300.7 L437.3 299.8 L437.8 299.0 L438.4 298.2 L438.9 297.4 L439.5 296.5 L440.0 295.7 L440.6 294.9 L441.2 294.0 L441.7 293.2 L442.3 292.4 L442.8 291.6 L443.4 290.7 L444.0 289.9 L444.5 289.1 L445.1 288.3 L445.7 287.4 L446.2 286.6 L446.8 285.8 L447.4 285.0 L447.9 284.2 L448.5 283.3 L449.1 282.5 L449.6 281.7 L450.2 280.9 L450.8 280.1 L451.3 279.3 L451.9 278.4 L452.5 277.6 L453.1 276.8 L453.6 276.0 L454.2 275.2 L454.8 274.4 L455.4 273.6 L456.0 272.8 L456.6 271.9 L457.1 271.1 L457.7 270.3 L458.3 269.5 L458.9 268.7 L459.5 267.9 L460.1 267.1 L460.7 266.3 L461.3 265.5 L461.9 264.7 L462.5 263.9 L463.1 263.2 L463.7 262.4 L464.3 261.6 L464.9 260.8 L465.6 260.0 L466.2 259.2 L466.8 258.4 L467.4 257.7 L468.1 256.9 L468.7 256.1 L469.3 255.3 L470.0 254.6 L470.6 253.8 L471.2 253.0 L471.9 252.3 L472.5 251.5 L473.2 250.7 L473.9 250.0 L474.5 249.2 L475.2 248.5 L475.9 247.7 L476.5 247.0 L477.2 246.2 L477.9 245.5 L478.6 244.7 L479.3 244.0 L480.0 243.3 L480.7 242.5 L481.4 241.8 L482.1 241.1 L482.8 240.3 L483.5 239.6 L484.2 238.9 L484.9 238.2 L485.6 237.5 L486.4 236.8 L487.1 236.1 L487.8 235.4 L488.5 234.7 L489.3 234.0 L490.0 233.3 L490.8 232.6 L491.5 231.9 L492.3 231.2 L493.0 230.5 L493.8 229.9 L494.6 229.2 L495.3 228.5 L496.1 227.9 L496.9 227.2 L497.6 226.5 L498.4 225.9 L499.2 225.3 L500.0 224.6 L500.8 224.0 L501.6 223.3 L502.4 222.7 L503.2 222.1 L504.0 221.5 L504.8 220.8 L505.6 220.2 L506.4 219.6 L507.2 219.0 L508.0 218.4 L508.8 217.8 L509.7 217.2 L510.5 216.6 L511.3 216.1 L512.1 215.5 L513.0 214.9 L513.8 214.4 L514.6 213.8 L515.5 213.2 L516.3 212.7 L517.2 212.2 L518.0 211.6 L518.9 211.1 L519.7 210.6 L520.6 210.0 L521.4 209.5 L522.3 209.0 L523.2 208.5 L524.0 208.0 L524.9 207.5 L525.8 207.0 L526.7 206.5 L527.5 206.1 L528.4 205.6 L529.3 205.1 L530.2 204.7 L531.1 204.2 L531.9 203.8 L532.8 203.3 L533.7 202.9 L534.6 202.5 L535.5 202.0 L536.4 201.6 L537.3 201.2 L538.2 200.8 L539.1 200.4 L540.0 200.0 L541.0 199.6 L541.9 199.3 L542.8 198.9 L543.7 198.5 L544.6 198.2 L545.5 197.8 L546.5 197.5 L547.4 197.1 L548.3 196.8 L549.2 196.5 L550.2 196.2 L551.1 195.9 L552.0 195.6 L553.0 195.3 L553.9 195.0 L554.8 194.7 L555.8 194.5 L556.7 194.2 L557.7 193.9 L558.6 193.7 L559.6 193.5 L560.5 193.2 L561.5 193.0 L562.4 192.8 L563.4 192.6 L564.3 192.4 L565.3 192.2 L566.2 192.0 L567.2 191.8 L568.2 191.7 L569.1 191.5 L570.1 191.4 L571.0 191.2 L572.0 191.1 L573.0 191.0 L573.9 190.8 L574.9 190.7 L575.9 190.6 L576.9 190.5 L577.8 190.5 L578.8 190.4 L579.8 190.3 L580.8 190.3 L581.7 190.2 L582.7 190.2 L583.7 190.2 L584.7 190.1 L585.7 190.1 L586.7 190.1 L587.6 190.1 L588.6 190.1 L589.6 190.2 L590.6 190.2 L591.6 190.2 L592.6 190.3 L593.6 190.3 L594.5 190.4 L595.5 190.5 L596.5 190.6 L597.5 190.7 L598.5 190.8 L599.5 190.9 L600.5 191.0 L601.5 191.1 L602.5 191.2 L603.5 191.3 L604.5 191.5 L605.5 191.6 L606.5 191.8 L607.4 191.9 L608.4 192.1 L609.4 192.3 L610.4 192.5 L611.4 192.6 L612.4 192.8 L613.4 193.0 L614.4 193.2 L615.4 193.5 L616.4 193.7 L617.4 193.9 L618.4 194.1 L619.4 194.3 L620.4 194.6 L621.3 194.8 L622.3 195.1 L623.3 195.3 L624.3 195.6 L625.3 195.9 L626.3 196.1 L627.3 196.4 L628.3 196.7 L629.2 196.9 L630.2 197.2 L631.2 197.5 L632.2 197.8 L633.2 198.1 L634.1 198.4 L635.1 198.7 L636.1 199.0 L637.1 199.3 L638.0 199.7 L639.0 200.0 L640.0 200.3 L641.0 200.6 L641.9 201.0 L642.9 201.3 L643.9 201.6 L644.8 202.0 L645.8 202.3 L646.8 202.7 L647.7 203.0 L648.7 203.4 L649.6 203.7 L650.6 204.1 L651.5 204.4 L652.5 204.8 L653.4 205.1 L654.4 205.5 L655.3 205.9 L656.3 206.2 L657.2 206.6 L658.1 207.0 L659.1 207.3 L660.0 207.7 L661.0 208.1 L661.9 208.5 L662.8 208.8 L663.8 209.2 L664.7 209.6 L665.6 210.0 L666.5 210.4 L667.5 210.7 L668.4 211.1 L669.3 211.5 L670.2 211.9 L671.2 212.3 L672.1 212.7 L673.0 213.1 L673.9 213.5 L674.8 213.9 L675.7 214.3 L676.7 214.7 L677.6 215.1 L678.5 215.5 L679.4 215.9 L680.3 216.3 L681.2 216.7 L682.1 217.1 L683.0 217.5 L683.9 217.9 L684.9 218.3 L685.8 218.7 L686.7 219.1 L687.6 219.6 L688.5 220.0 L689.4 220.4 L690.3 220.8 L691.2 221.2 L692.1 221.6 L693.0 222.1 L693.9 222.5 L694.8 222.9 L695.7 223.3 L696.6 223.7 L697.5 224.1 L698.4 224.6 L699.3 225.0 L700.2 225.4 L701.1 225.8 L702.0 226.3 L702.9 226.7 L703.8 227.1 L704.7 227.5 L705.6 228.0 L706.5 228.4 L707.4 228.8 L708.3 229.2 L709.2 229.7 L710.1 230.1 L711.0 230.5 L711.9 231.0 L712.8 231.4 L713.7 231.8 L714.6 232.2 L715.5 232.7 L716.4 233.1 L717.3 233.5 L718.2 234.0 L719.1 234.4 L720.0 234.8 L720.9 235.3 L721.8 235.7 L722.7 236.2 L723.6 236.6 L724.5 237.0 L725.4 237.5 L726.3 237.9 L727.2 238.3 L728.1 238.8 L729.0 239.2 L729.9 239.7 L730.8 240.1 L731.7 240.6 L732.6 241.0 L733.5 241.4 L734.4 241.9 L735.3 242.3 L736.2 242.8 L737.1 243.2 L737.9 243.7 L738.8 244.1 L739.7 244.6 L740.6 245.0 L741.5 245.5 L742.4 245.9 L743.3 246.4 L744.2 246.8 L745.1 247.3 L746.0 247.7 L746.9 248.2 L747.8 248.6 L748.7 249.1 L749.6 249.5 L750.4 250.0 L751.3 250.4 L752.2 250.9 L753.1 251.3 L754.0 251.8 L754.9 252.3 L755.8 252.7 L756.7 253.2 L757.6 253.6 L758.5 254.1 L759.3 254.5 L760.2 255.0 L761.1 255.5 L762.0 255.9 L762.9 256.4 L763.8 256.8 L764.7 257.3 L765.6 257.8 L766.4 258.2 L767.3 258.7 L768.2 259.2 L769.1 259.6 L770.0 260.1 L770.9 260.6 L771.8 261.0 L772.6 261.5 L773.5 262.0 L774.4 262.4 L775.3 262.9 L776.2 263.4 L777.1 263.8 L777.9 264.3 L778.8 264.8 L779.7 265.3 L780.6 265.7 L781.5 266.2 L782.4 266.7 L783.2 267.1 L784.1 267.6 L785.0 268.1 L785.9 268.6 L786.8 269.0 L787.7 269.5 L788.5 270.0 L789.4 270.5 L790.3 270.9 L791.2 271.4 L792.1 271.9 L792.9 272.4 L793.8 272.9 L794.7 273.3 L795.6 273.8 L796.4 274.3 L797.3 274.8 L798.2 275.3 L799.1 275.7 L800.0 276.2 L800.8 276.7 L801.7 277.2 L802.6 277.7 L803.5 278.2 L804.3 278.7 L805.2 279.1 L806.1 279.6 L807.0 280.1 L807.8 280.6 L808.7 281.1 L809.6 281.6 L810.5 282.1 L811.3 282.5 L812.2 283.0 L813.1 283.5 L814.0 284.0 L814.8 284.5 L815.7 285.0 L816.6 285.5 L817.4 286.0 L818.3 286.5 L819.2 287.0 L820.1 287.5 L820.9 288.0 L821.8 288.4 L822.7 288.9 L823.5 289.4 L824.4 289.9 L825.3 290.4 L826.2 290.9 L827.0 291.4 L827.9 291.9 L828.8 292.4 L829.6 292.9 L830.5 293.4 L831.4 293.9 L832.2 294.4 L833.1 294.9 L834.0 295.4 L834.8 295.9 L835.7 296.4 L836.6 296.9 L837.4 297.4 L838.3 297.9 L839.2 298.4 L840.0 298.9 L840.9 299.4 L841.8 299.9 L842.6 300.4 L843.5 300.9 L844.4 301.4 L845.2 301.9 L846.1 302.4 L846.9 302.9 L847.8 303.5 L848.7 304.0 L849.5 304.5 L850.4 305.0 L851.3 305.5 L852.1 306.0 L853.0 306.5 L853.8 307.0 L854.7 307.5 L855.6 308.0 L856.4 308.5 L857.3 309.0 L858.2 309.6 L859.0 310.1 L859.9 310.6 L860.7 311.1 L861.6 311.6 L862.5 312.1 L863.3 312.6 L864.2 313.1 L865.0 313.7 L865.9 314.2 L866.7 314.7 L867.6 315.2 L868.5 315.7 L869.3 316.2 L870.2 316.7 L871.0 317.3 L871.9 317.8 L872.8 318.3 L873.6 318.8 L874.5 319.3 L875.3 319.8 L876.2 320.4 L877.0 320.9 L877.9 321.4 L878.8 321.9 L879.6 322.4 L880.5 322.9 L881.3 323.5 L882.2 324.0 L883.0 324.5 L883.9 325.0 L884.7 325.5 L885.6 326.1 L886.5 326.6 L887.3 327.1 L888.2 327.6 L889.0 328.1 L889.9 328.7 L890.7 329.2 L891.6 329.7 L892.4 330.2 L893.3 330.8 L894.1 331.3 L895.0 331.8 L895.8 332.3 L896.7 332.9 L897.5 333.4 L898.4 333.9 L899.2 334.4 L900.1 335.0 L901.0 335.5 L901.8 336.0 L902.7 336.5 L903.5 337.1 L904.4 337.6 L905.2 338.1 L906.1 338.6 L906.9 339.2 L907.8 339.7 L908.6 340.2 L909.5 340.7 L910.3 341.3 L911.2 341.8 L912.0 342.3 L912.9 342.9 L913.7 343.4 L914.6 343.9 L915.4 344.4 L916.3 345.0 L917.1 345.5 L918.0 346.0 L918.8 346.6 L919.7 347.1 L920.5 347.6 L921.4 348.2 L922.2 348.7 L923.1 349.2 L923.9 349.7 L924.7 350.3 L925.6 350.8 L926.4 351.3 L927.3 351.9 L928.1 352.4 L929.0 352.9 L929.8 353.5 L930.7 354.0 L931.5 354.5 L932.4 355.1 L933.2 355.6 L934.1 356.1 L934.9 356.7 L935.8 357.2 L936.6 357.7 L937.5 358.3 L938.3 358.8 L939.2 359.3 L940.0 359.9 L940.8 360.4 L941.7 361.0 L942.5 361.5 L943.4 362.0 L944.2 362.6 L945.1 363.1 L945.9 363.6 L946.8 364.2 L947.6 364.7 L948.5 365.2 L949.3 365.8 L950.1 366.3 L951.0 366.8 L951.8 367.4 L952.7 367.9 L953.5 368.5 L954.4 369.0 L955.2 369.5 L956.1 370.1 L956.9 370.6 L957.7 371.1 L958.6 371.7 L959.4 372.2 L960.3 372.8 L961.1 373.3 L962.0 373.8 L962.8 374.4 L963.7 374.9 L964.5 375.5 L965.3 376.0 L966.2 376.5 L967.0 377.1 L967.9 377.6 L968.7 378.1 L969.6 378.7 L970.4 379.2 L971.2 379.8 L972.1 380.3 L972.9 380.8 L973.8 381.4 L974.6 381.9 L975.5 382.5 L976.3 383.0 L977.1 383.5 L978.0 384.1 L978.8 384.6 L979.7 385.2 L980.5 385.7 L981.4 386.2 L982.2 386.8 L983.0 387.3 L983.9 387.9 L984.7 388.4 L985.6 388.9 L986.4 389.5 L987.3 390.0 L988.1 390.6 L988.9 391.1 L989.8 391.6 L990.6 392.2 L991.5 392.7 L992.3 393.3 L993.1 393.8 L994.0 394.4 L994.8 394.9 L995.7 395.4 L996.5 396.0 L997.4 396.5 L998.2 397.1 L999.0 397.6 L999.9 398.1 L1000.7 398.7 L1001.6 399.2 L1002.4 399.8 L1003.3 400.3 L1004.1 400.8" stroke="#b3d274" stroke-width="4.8" stroke-dasharray="21.55 13.05" stroke-dashoffset="17.6"/>
<path d="M415.1 666.8 L415.3 665.8 L415.5 664.9 L415.8 663.9 L416.0 663.0 L416.3 662.0 L416.5 661.0 L416.7 660.1 L417.0 659.1 L417.2 658.1 L417.5 657.2 L417.7 656.2 L418.0 655.3 L418.2 654.3 L418.4 653.3 L418.7 652.4 L418.9 651.4 L419.2 650.4 L419.4 649.5 L419.7 648.5 L419.9 647.5 L420.2 646.6 L420.4 645.6 L420.7 644.7 L420.9 643.7 L421.2 642.7 L421.4 641.8 L421.7 640.8 L421.9 639.8 L422.2 638.9 L422.4 637.9 L422.7 636.9 L422.9 636.0 L423.2 635.0 L423.4 634.0 L423.7 633.1 L423.9 632.1 L424.2 631.1 L424.4 630.2 L424.7 629.2 L424.9 628.2 L425.2 627.3 L425.4 626.3 L425.7 625.3 L426.0 624.4 L426.2 623.4 L426.5 622.4 L426.7 621.5 L427.0 620.5 L427.2 619.6 L427.5 618.6 L427.8 617.6 L428.0 616.7 L428.3 615.7 L428.5 614.7 L428.8 613.8 L429.1 612.8 L429.3 611.8 L429.6 610.9 L429.9 609.9 L430.1 608.9 L430.4 608.0 L430.6 607.0 L430.9 606.0 L431.2 605.1 L431.4 604.1 L431.7 603.1 L432.0 602.2 L432.2 601.2 L432.5 600.2 L432.8 599.3 L433.0 598.3 L433.3 597.3 L433.6 596.4 L433.8 595.4 L434.1 594.4 L434.4 593.5 L434.7 592.5 L434.9 591.5 L435.2 590.6 L435.5 589.6 L435.7 588.6 L436.0 587.7 L436.3 586.7 L436.6 585.7 L436.8 584.8 L437.1 583.8 L437.4 582.9 L437.7 581.9 L438.0 580.9 L438.2 580.0 L438.5 579.0 L438.8 578.0 L439.1 577.1 L439.3 576.1 L439.6 575.1 L439.9 574.2 L440.2 573.2 L440.5 572.2 L440.7 571.3 L441.0 570.3 L441.3 569.4 L441.6 568.4 L441.9 567.4 L442.2 566.5 L442.5 565.5 L442.7 564.5 L443.0 563.6 L443.3 562.6 L443.6 561.6 L443.9 560.7 L444.2 559.7 L444.5 558.8 L444.8 557.8 L445.0 556.8 L445.3 555.9 L445.6 554.9 L445.9 554.0 L446.2 553.0 L446.5 552.0 L446.8 551.1 L447.1 550.1 L447.4 549.1 L447.7 548.2 L448.0 547.2 L448.3 546.3 L448.6 545.3 L448.9 544.3 L449.2 543.4 L449.5 542.4 L449.8 541.5 L450.1 540.5 L450.4 539.5 L450.7 538.6 L451.0 537.6 L451.3 536.7 L451.6 535.7 L451.9 534.8 L452.2 533.8 L452.5 532.8 L452.8 531.9 L453.1 530.9 L453.4 530.0 L453.7 529.0 L454.0 528.0 L454.3 527.1 L454.6 526.1 L454.9 525.2 L455.2 524.2 L455.5 523.3 L455.9 522.3 L456.2 521.4 L456.5 520.4 L456.8 519.4 L457.1 518.5 L457.4 517.5 L457.7 516.6 L458.1 515.6 L458.4 514.7 L458.7 513.7 L459.0 512.8 L459.3 511.8 L459.6 510.9 L460.0 509.9 L460.3 509.0 L460.6 508.0 L460.9 507.1 L461.2 506.1 L461.6 505.2 L461.9 504.2 L462.2 503.3 L462.5 502.3 L462.9 501.4 L463.2 500.4 L463.5 499.5 L463.8 498.5 L464.2 497.6 L464.5 496.6 L464.8 495.7 L465.1 494.7 L465.5 493.8 L465.8 492.8 L466.1 491.9 L466.5 490.9 L466.8 490.0 L467.1 489.0 L467.5 488.1 L467.8 487.1 L468.1 486.2 L468.5 485.2 L468.8 484.3 L469.1 483.4 L469.5 482.4 L469.8 481.5 L470.2 480.5 L470.5 479.6 L470.8 478.6 L471.2 477.7 L471.5 476.8 L471.9 475.8 L472.2 474.9 L472.5 473.9 L472.9 473.0 L473.2 472.1 L473.6 471.1 L473.9 470.2 L474.3 469.2 L474.6 468.3 L475.0 467.4 L475.3 466.4 L475.7 465.5 L476.0 464.5 L476.4 463.6 L476.7 462.7 L477.1 461.7 L477.4 460.8 L477.8 459.9 L478.1 458.9 L478.5 458.0 L478.9 457.1 L479.2 456.1 L479.6 455.2 L479.9 454.3 L480.3 453.3 L480.7 452.4 L481.0 451.5 L481.4 450.5 L481.7 449.6 L482.1 448.7 L482.5 447.7 L482.8 446.8 L483.2 445.9 L483.6 445.0 L483.9 444.0 L484.3 443.1 L484.7 442.2 L485.0 441.2 L485.4 440.3 L485.8 439.4 L486.2 438.5 L486.5 437.5 L486.9 436.6 L487.3 435.7 L487.6 434.8 L488.0 433.8 L488.4 432.9 L488.8 432.0 L489.2 431.1 L489.5 430.2 L489.9 429.2 L490.3 428.3 L490.7 427.4 L491.1 426.5 L491.4 425.6 L491.8 424.6 L492.2 423.7 L492.6 422.8 L493.0 421.9 L493.4 421.0 L493.7 420.0 L494.1 419.1 L494.5 418.2 L494.9 417.3 L495.3 416.4 L495.7 415.5 L496.1 414.6 L496.5 413.6 L496.9 412.7 L497.3 411.8 L497.7 410.9 L498.1 410.0 L498.5 409.1 L498.9 408.2 L499.3 407.3 L499.7 406.3 L500.1 405.4 L500.5 404.5 L500.9 403.6 L501.3 402.7 L501.7 401.8 L502.1 400.9 L502.5 400.0 L502.9 399.1 L503.3 398.2 L503.7 397.3 L504.1 396.4 L504.5 395.4 L504.9 394.5 L505.3 393.6 L505.8 392.7 L506.2 391.8 L506.6 390.9 L507.0 390.0 L507.4 389.1 L507.8 388.2 L508.3 387.3 L508.7 386.4 L509.1 385.5 L509.5 384.6 L509.9 383.7 L510.4 382.8 L510.8 381.9 L511.2 381.0 L511.6 380.1 L512.1 379.2 L512.5 378.3 L512.9 377.4 L513.3 376.5 L513.8 375.6 L514.2 374.7 L514.6 373.8 L515.1 372.9 L515.5 372.0 L515.9 371.1 L516.4 370.2 L516.8 369.3 L517.3 368.4 L517.7 367.5 L518.1 366.6 L518.6 365.7 L519.0 364.8 L519.5 363.9 L519.9 363.0 L520.3 362.1 L520.8 361.3 L521.2 360.4 L521.7 359.5 L522.1 358.6 L522.6 357.7 L523.0 356.8 L523.5 355.9 L523.9 355.0 L524.4 354.1 L524.8 353.2 L525.3 352.3 L525.8 351.4 L526.2 350.5 L526.7 349.6 L527.1 348.8 L527.6 347.9 L528.1 347.0 L528.5 346.1 L529.0 345.2 L529.5 344.3 L529.9 343.4 L530.4 342.5 L530.9 341.6 L531.3 340.7 L531.8 339.9 L532.3 339.0 L532.7 338.1 L533.2 337.2 L533.7 336.3 L534.2 335.4 L534.6 334.5 L535.1 333.6 L535.6 332.7 L536.1 331.9 L536.6 331.0 L537.0 330.1 L537.5 329.2 L538.0 328.3 L538.5 327.4 L539.0 326.5 L539.5 325.7 L540.0 324.8 L540.4 323.9 L540.9 323.0 L541.4 322.1 L541.9 321.2 L542.4 320.3 L542.9 319.5 L543.4 318.6 L543.9 317.7 L544.4 316.8 L544.9 315.9 L545.4 315.0 L545.9 314.2 L546.4 313.3 L546.9 312.4 L547.4 311.5 L547.9 310.6 L548.4 309.7 L548.9 308.9 L549.5 308.0 L550.0 307.1 L550.5 306.2 L551.0 305.3 L551.5 304.5 L552.0 303.6 L552.6 302.7 L553.1 301.8 L553.6 301.0 L554.1 300.1 L554.7 299.2 L555.2 298.4 L555.7 297.5 L556.3 296.6 L556.8 295.8 L557.3 294.9 L557.9 294.0 L558.4 293.2 L559.0 292.3 L559.5 291.5 L560.1 290.6 L560.6 289.8 L561.2 288.9 L561.7 288.1 L562.3 287.2 L562.9 286.4 L563.4 285.5 L564.0 284.7 L564.6 283.9 L565.1 283.0 L565.7 282.2 L566.3 281.4 L566.9 280.5 L567.4 279.7 L568.0 278.9 L568.6 278.1 L569.2 277.2 L569.8 276.4 L570.4 275.6 L571.0 274.8 L571.6 274.0 L572.2 273.2 L572.8 272.4 L573.4 271.6 L574.0 270.8 L574.6 270.0 L575.3 269.2 L575.9 268.4 L576.5 267.6 L577.1 266.8 L577.8 266.1 L578.4 265.3 L579.0 264.5 L579.7 263.8 L580.3 263.0 L581.0 262.2 L581.6 261.5 L582.3 260.7 L582.9 260.0 L583.6 259.2 L584.3 258.5 L584.9 257.7 L585.6 257.0 L586.3 256.3 L587.0 255.6 L587.7 254.8 L588.3 254.1 L589.0 253.4 L589.7 252.7 L590.4 252.0 L591.1 251.3 L591.9 250.6 L592.6 249.9 L593.3 249.2 L594.0 248.5 L594.7 247.9 L595.5 247.2 L596.2 246.5 L596.9 245.8 L597.7 245.2 L598.4 244.5 L599.2 243.9 L599.9 243.2 L600.7 242.6 L601.4 242.0 L602.2 241.3 L603.0 240.7 L603.7 240.1 L604.5 239.5 L605.3 238.9 L606.1 238.3 L606.9 237.7 L607.7 237.1 L608.5 236.5 L609.3 235.9 L610.1 235.3 L610.9 234.8 L611.7 234.2 L612.6 233.6 L613.4 233.1 L614.2 232.6 L615.1 232.0 L615.9 231.5 L616.7 231.0 L617.6 230.4 L618.4 229.9 L619.3 229.4 L620.1 228.9 L621.0 228.4 L621.9 228.0 L622.7 227.5 L623.6 227.0 L624.5 226.6 L625.4 226.1 L626.2 225.7 L627.1 225.2 L628.0 224.8 L628.9 224.4 L629.8 224.0 L630.7 223.6 L631.6 223.2 L632.5 222.8 L633.4 222.4 L634.3 222.0 L635.3 221.6 L636.2 221.3 L637.1 220.9 L638.0 220.6 L638.9 220.3 L639.9 219.9 L640.8 219.6 L641.7 219.3 L642.7 219.0 L643.6 218.8 L644.6 218.5 L645.5 218.2 L646.5 218.0 L647.4 217.7 L648.4 217.5 L649.3 217.2 L650.3 217.0 L651.2 216.8 L652.2 216.6 L653.2 216.4 L654.1 216.3 L655.1 216.1 L656.1 215.9 L657.1 215.8 L658.0 215.6 L659.0 215.5 L660.0 215.4 L661.0 215.3 L662.0 215.2 L662.9 215.1 L663.9 215.0 L664.9 214.9 L665.9 214.8 L666.9 214.7 L667.9 214.7 L668.9 214.6 L669.9 214.6 L670.9 214.6 L671.9 214.5 L672.9 214.5 L673.9 214.5 L674.9 214.5 L675.9 214.5 L676.9 214.5 L677.9 214.5 L678.9 214.6 L679.9 214.6 L680.9 214.6 L681.9 214.7 L682.9 214.7 L683.9 214.8 L685.0 214.8 L686.0 214.9 L687.0 215.0 L688.0 215.0 L689.0 215.1 L690.0 215.2 L691.0 215.3 L692.0 215.4 L693.0 215.5 L694.0 215.6 L695.0 215.7 L696.1 215.8 L697.1 216.0 L698.1 216.1 L699.1 216.2 L700.1 216.3 L701.1 216.5 L702.1 216.6 L703.1 216.8 L704.1 216.9 L705.1 217.1 L706.1 217.2 L707.1 217.4 L708.1 217.6 L709.1 217.7 L710.1 217.9 L711.1 218.1 L712.1 218.2 L713.1 218.4 L714.1 218.6 L715.1 218.8 L716.1 219.0 L717.1 219.2 L718.1 219.4 L719.1 219.6 L720.1 219.8 L721.1 220.0 L722.1 220.2 L723.0 220.4 L724.0 220.6 L725.0 220.8 L726.0 221.0 L727.0 221.3 L728.0 221.5 L729.0 221.7 L729.9 221.9 L730.9 222.2 L731.9 222.4 L732.9 222.6 L733.9 222.9 L734.8 223.1 L735.8 223.4 L736.8 223.6 L737.8 223.8 L738.7 224.1 L739.7 224.4 L740.7 224.6 L741.6 224.9 L742.6 225.1 L743.6 225.4 L744.6 225.7 L745.5 225.9 L746.5 226.2 L747.5 226.5 L748.4 226.7 L749.4 227.0 L750.3 227.3 L751.3 227.6 L752.3 227.9 L753.2 228.2 L754.2 228.4 L755.2 228.7 L756.1 229.0 L757.1 229.3 L758.0 229.6 L759.0 229.9 L759.9 230.2 L760.9 230.5 L761.9 230.8 L762.8 231.1 L763.8 231.4 L764.7 231.8 L765.7 232.1 L766.6 232.4 L767.6 232.7 L768.5 233.0 L769.5 233.3 L770.4 233.7 L771.4 234.0 L772.3 234.3 L773.3 234.6 L774.2 235.0 L775.1 235.3 L776.1 235.6 L777.0 236.0 L778.0 236.3 L778.9 236.6 L779.9 237.0 L780.8 237.3 L781.7 237.7 L782.7 238.0 L783.6 238.3 L784.6 238.7 L785.5 239.0 L786.4 239.4 L787.4 239.7 L788.3 240.1 L789.3 240.4 L790.2 240.8 L791.1 241.2 L792.1 241.5 L793.0 241.9 L793.9 242.2 L794.9 242.6 L795.8 243.0 L796.7 243.3 L797.7 243.7 L798.6 244.1 L799.5 244.4 L800.4 244.8 L801.4 245.2 L802.3 245.5 L803.2 245.9 L804.2 246.3 L805.1 246.7 L806.0 247.0 L806.9 247.4 L807.9 247.8 L808.8 248.2 L809.7 248.5 L810.7 248.9 L811.6 249.3 L812.5 249.7 L813.4 250.1 L814.3 250.5 L815.3 250.8 L816.2 251.2 L817.1 251.6 L818.0 252.0 L819.0 252.4 L819.9 252.8 L820.8 253.2 L821.7 253.6 L822.6 254.0 L823.6 254.4 L824.5 254.8 L825.4 255.2 L826.3 255.6 L827.2 256.0 L828.1 256.4 L829.1 256.8 L830.0 257.2 L830.9 257.6 L831.8 258.0 L832.7 258.4 L833.6 258.8 L834.6 259.2 L835.5 259.6 L836.4 260.0 L837.3 260.4 L838.2 260.8 L839.1 261.2 L840.0 261.6 L840.9 262.1 L841.8 262.5 L842.8 262.9 L843.7 263.3 L844.6 263.7 L845.5 264.1 L846.4 264.6 L847.3 265.0 L848.2 265.4 L849.1 265.8 L850.0 266.2 L850.9 266.7 L851.8 267.1 L852.7 267.5 L853.6 267.9 L854.6 268.4 L855.5 268.8 L856.4 269.2 L857.3 269.6 L858.2 270.1 L859.1 270.5 L860.0 270.9 L860.9 271.4 L861.8 271.8 L862.7 272.2 L863.6 272.7 L864.5 273.1 L865.4 273.5 L866.3 274.0 L867.2 274.4 L868.1 274.9 L869.0 275.3 L869.9 275.7 L870.8 276.2 L871.7 276.6 L872.6 277.1 L873.5 277.5 L874.4 277.9 L875.3 278.4 L876.2 278.8 L877.1 279.3 L878.0 279.7 L878.8 280.2 L879.7 280.6 L880.6 281.1 L881.5 281.5 L882.4 282.0 L883.3 282.4 L884.2 282.9 L885.1 283.3 L886.0 283.8 L886.9 284.2 L887.8 284.7 L888.7 285.1 L889.6 285.6 L890.5 286.0 L891.3 286.5 L892.2 287.0 L893.1 287.4 L894.0 287.9 L894.9 288.3 L895.8 288.8 L896.7 289.3 L897.6 289.7 L898.5 290.2 L899.3 290.6 L900.2 291.1 L901.1 291.6 L902.0 292.0 L902.9 292.5 L903.8 293.0 L904.7 293.4 L905.6 293.9 L906.4 294.4 L907.3 294.8 L908.2 295.3 L909.1 295.8 L910.0 296.2 L910.9 296.7 L911.7 297.2 L912.6 297.7 L913.5 298.1 L914.4 298.6 L915.3 299.1 L916.2 299.5 L917.0 300.0 L917.9 300.5 L918.8 301.0 L919.7 301.4 L920.6 301.9 L921.4 302.4 L922.3 302.9 L923.2 303.3 L924.1 303.8 L925.0 304.3 L925.8 304.8 L926.7 305.3 L927.6 305.7 L928.5 306.2 L929.4 306.7 L930.2 307.2 L931.1 307.7 L932.0 308.1 L932.9 308.6 L933.7 309.1 L934.6 309.6 L935.5 310.1 L936.4 310.6 L937.2 311.1 L938.1 311.5 L939.0 312.0 L939.9 312.5 L940.7 313.0 L941.6 313.5 L942.5 314.0 L943.4 314.5 L944.2 314.9 L945.1 315.4 L946.0 315.9 L946.9 316.4 L947.7 316.9 L948.6 317.4 L949.5 317.9 L950.4 318.4 L951.2 318.9 L952.1 319.4 L953.0 319.8 L953.8 320.3 L954.7 320.8 L955.6 321.3 L956.5 321.8 L957.3 322.3 L958.2 322.8 L959.1 323.3 L959.9 323.8 L960.8 324.3 L961.7 324.8 L962.5 325.3 L963.4 325.8 L964.3 326.3 L965.2 326.8 L966.0 327.3 L966.9 327.8 L967.8 328.3 L968.6 328.8 L969.5 329.3 L970.4 329.8 L971.2 330.3 L972.1 330.8 L973.0 331.3 L973.8 331.8 L974.7 332.3 L975.6 332.7 L976.4 333.2 L977.3 333.7 L978.2 334.2 L979.0 334.8 L979.9 335.3 L980.8 335.8 L981.6 336.3 L982.5 336.8 L983.4 337.3 L984.2 337.8 L985.1 338.3 L985.9 338.8 L986.8 339.3 L987.7 339.8 L988.5 340.3 L989.4 340.8 L990.3 341.3 L991.1 341.8 L992.0 342.3 L992.9 342.8 L993.7 343.3 L994.6 343.8 L995.4 344.3 L996.3 344.8 L997.2 345.3 L998.0 345.8 L998.9 346.3 L999.8 346.8 L1000.6 347.3 L1001.5 347.8 L1002.3 348.3 L1003.2 348.8 L1004.1 349.3" stroke="#4a8a2c" stroke-width="4.8" stroke-dasharray="28.90 13.05" stroke-dashoffset="33.6"/>
<path d="M527.1 667.2 L527.3 666.2 L527.5 665.3 L527.7 664.3 L527.9 663.3 L528.1 662.3 L528.3 661.3 L528.5 660.3 L528.7 659.3 L528.9 658.3 L529.1 657.3 L529.3 656.3 L529.5 655.3 L529.7 654.3 L529.9 653.3 L530.1 652.3 L530.3 651.4 L530.5 650.4 L530.7 649.4 L530.9 648.4 L531.2 647.4 L531.4 646.4 L531.6 645.4 L531.8 644.4 L532.0 643.4 L532.2 642.5 L532.4 641.5 L532.6 640.5 L532.9 639.5 L533.1 638.5 L533.3 637.5 L533.5 636.6 L533.7 635.6 L534.0 634.6 L534.2 633.6 L534.4 632.6 L534.6 631.6 L534.8 630.7 L535.1 629.7 L535.3 628.7 L535.5 627.7 L535.7 626.7 L535.9 625.8 L536.2 624.8 L536.4 623.8 L536.6 622.8 L536.8 621.9 L537.1 620.9 L537.3 619.9 L537.5 618.9 L537.8 618.0 L538.0 617.0 L538.2 616.0 L538.5 615.0 L538.7 614.1 L538.9 613.1 L539.1 612.1 L539.4 611.1 L539.6 610.2 L539.8 609.2 L540.1 608.2 L540.3 607.2 L540.6 606.3 L540.8 605.3 L541.0 604.3 L541.3 603.4 L541.5 602.4 L541.7 601.4 L542.0 600.4 L542.2 599.5 L542.5 598.5 L542.7 597.5 L542.9 596.6 L543.2 595.6 L543.4 594.6 L543.7 593.7 L543.9 592.7 L544.2 591.7 L544.4 590.8 L544.6 589.8 L544.9 588.8 L545.1 587.9 L545.4 586.9 L545.6 585.9 L545.9 585.0 L546.1 584.0 L546.4 583.0 L546.6 582.1 L546.9 581.1 L547.1 580.1 L547.4 579.2 L547.6 578.2 L547.9 577.2 L548.1 576.3 L548.4 575.3 L548.6 574.3 L548.9 573.4 L549.1 572.4 L549.4 571.4 L549.7 570.5 L549.9 569.5 L550.2 568.6 L550.4 567.6 L550.7 566.6 L550.9 565.7 L551.2 564.7 L551.5 563.7 L551.7 562.8 L552.0 561.8 L552.2 560.9 L552.5 559.9 L552.8 558.9 L553.0 558.0 L553.3 557.0 L553.5 556.1 L553.8 555.1 L554.1 554.1 L554.3 553.2 L554.6 552.2 L554.9 551.2 L555.1 550.3 L555.4 549.3 L555.6 548.4 L555.9 547.4 L556.2 546.4 L556.4 545.5 L556.7 544.5 L557.0 543.6 L557.2 542.6 L557.5 541.6 L557.8 540.7 L558.0 539.7 L558.3 538.8 L558.6 537.8 L558.9 536.8 L559.1 535.9 L559.4 534.9 L559.7 534.0 L559.9 533.0 L560.2 532.0 L560.5 531.1 L560.8 530.1 L561.0 529.2 L561.3 528.2 L561.6 527.2 L561.9 526.3 L562.1 525.3 L562.4 524.4 L562.7 523.4 L563.0 522.5 L563.2 521.5 L563.5 520.5 L563.8 519.6 L564.1 518.6 L564.3 517.7 L564.6 516.7 L564.9 515.7 L565.2 514.8 L565.4 513.8 L565.7 512.9 L566.0 511.9 L566.3 510.9 L566.6 510.0 L566.8 509.0 L567.1 508.1 L567.4 507.1 L567.7 506.1 L568.0 505.2 L568.3 504.2 L568.5 503.3 L568.8 502.3 L569.1 501.3 L569.4 500.4 L569.7 499.4 L570.0 498.4 L570.2 497.5 L570.5 496.5 L570.8 495.6 L571.1 494.6 L571.4 493.6 L571.7 492.7 L571.9 491.7 L572.2 490.8 L572.5 489.8 L572.8 488.8 L573.1 487.9 L573.4 486.9 L573.7 485.9 L574.0 485.0 L574.2 484.0 L574.5 483.1 L574.8 482.1 L575.1 481.1 L575.4 480.2 L575.7 479.2 L576.0 478.2 L576.3 477.3 L576.6 476.3 L576.9 475.4 L577.1 474.4 L577.4 473.4 L577.7 472.5 L578.0 471.5 L578.3 470.5 L578.6 469.6 L578.9 468.6 L579.2 467.7 L579.5 466.7 L579.8 465.7 L580.1 464.8 L580.4 463.8 L580.7 462.8 L581.0 461.9 L581.3 460.9 L581.6 460.0 L581.9 459.0 L582.2 458.0 L582.5 457.1 L582.8 456.1 L583.1 455.2 L583.4 454.2 L583.7 453.2 L584.1 452.3 L584.4 451.3 L584.7 450.4 L585.0 449.4 L585.3 448.4 L585.6 447.5 L585.9 446.5 L586.2 445.6 L586.6 444.6 L586.9 443.7 L587.2 442.7 L587.5 441.7 L587.8 440.8 L588.1 439.8 L588.5 438.9 L588.8 437.9 L589.1 437.0 L589.4 436.0 L589.8 435.1 L590.1 434.1 L590.4 433.2 L590.7 432.2 L591.1 431.3 L591.4 430.3 L591.7 429.4 L592.1 428.4 L592.4 427.5 L592.7 426.5 L593.1 425.6 L593.4 424.6 L593.8 423.7 L594.1 422.7 L594.4 421.8 L594.8 420.8 L595.1 419.9 L595.5 418.9 L595.8 418.0 L596.2 417.0 L596.5 416.1 L596.9 415.2 L597.2 414.2 L597.6 413.3 L597.9 412.3 L598.3 411.4 L598.6 410.5 L599.0 409.5 L599.4 408.6 L599.7 407.6 L600.1 406.7 L600.5 405.8 L600.8 404.8 L601.2 403.9 L601.6 403.0 L601.9 402.0 L602.3 401.1 L602.7 400.2 L603.1 399.3 L603.4 398.3 L603.8 397.4 L604.2 396.5 L604.6 395.5 L605.0 394.6 L605.4 393.7 L605.7 392.8 L606.1 391.8 L606.5 390.9 L606.9 390.0 L607.3 389.1 L607.7 388.2 L608.1 387.2 L608.5 386.3 L608.9 385.4 L609.3 384.5 L609.7 383.6 L610.1 382.7 L610.5 381.7 L610.9 380.8 L611.4 379.9 L611.8 379.0 L612.2 378.1 L612.6 377.2 L613.0 376.3 L613.4 375.4 L613.9 374.5 L614.3 373.6 L614.7 372.7 L615.2 371.8 L615.6 370.9 L616.0 370.0 L616.5 369.1 L616.9 368.2 L617.3 367.3 L617.8 366.4 L618.2 365.5 L618.7 364.6 L619.1 363.7 L619.6 362.8 L620.0 361.9 L620.5 361.0 L620.9 360.1 L621.4 359.3 L621.9 358.4 L622.3 357.5 L622.8 356.6 L623.3 355.7 L623.7 354.8 L624.2 354.0 L624.7 353.1 L625.1 352.2 L625.6 351.3 L626.1 350.5 L626.6 349.6 L627.1 348.7 L627.6 347.8 L628.1 347.0 L628.6 346.1 L629.0 345.2 L629.5 344.4 L630.0 343.5 L630.6 342.7 L631.1 341.8 L631.6 340.9 L632.1 340.1 L632.6 339.2 L633.1 338.4 L633.6 337.5 L634.1 336.7 L634.7 335.8 L635.2 335.0 L635.7 334.1 L636.3 333.3 L636.8 332.4 L637.3 331.6 L637.9 330.8 L638.4 329.9 L639.0 329.1 L639.5 328.2 L640.0 327.4 L640.6 326.6 L641.2 325.7 L641.7 324.9 L642.3 324.1 L642.8 323.3 L643.4 322.4 L644.0 321.6 L644.5 320.8 L645.1 320.0 L645.7 319.1 L646.3 318.3 L646.9 317.5 L647.4 316.7 L648.0 315.9 L648.6 315.1 L649.2 314.3 L649.8 313.5 L650.4 312.7 L651.0 311.8 L651.6 311.0 L652.2 310.2 L652.8 309.5 L653.5 308.7 L654.1 307.9 L654.7 307.1 L655.3 306.3 L656.0 305.5 L656.6 304.7 L657.2 303.9 L657.9 303.2 L658.5 302.4 L659.1 301.6 L659.8 300.8 L660.4 300.1 L661.1 299.3 L661.8 298.6 L662.4 297.8 L663.1 297.1 L663.8 296.3 L664.4 295.6 L665.1 294.8 L665.8 294.1 L666.5 293.4 L667.2 292.6 L667.9 291.9 L668.6 291.2 L669.3 290.5 L670.0 289.8 L670.7 289.1 L671.4 288.4 L672.1 287.7 L672.8 287.0 L673.6 286.3 L674.3 285.6 L675.0 285.0 L675.8 284.3 L676.5 283.6 L677.3 283.0 L678.0 282.3 L678.8 281.7 L679.5 281.0 L680.3 280.4 L681.1 279.8 L681.8 279.1 L682.6 278.5 L683.4 277.9 L684.2 277.3 L685.0 276.7 L685.8 276.1 L686.6 275.6 L687.4 275.0 L688.2 274.4 L689.0 273.8 L689.8 273.3 L690.7 272.7 L691.5 272.2 L692.3 271.7 L693.2 271.1 L694.0 270.6 L694.9 270.1 L695.7 269.6 L696.6 269.1 L697.4 268.6 L698.3 268.1 L699.2 267.6 L700.0 267.1 L700.9 266.7 L701.8 266.2 L702.7 265.8 L703.6 265.3 L704.5 264.9 L705.4 264.4 L706.3 264.0 L707.2 263.6 L708.1 263.2 L709.0 262.8 L709.9 262.4 L710.8 262.0 L711.7 261.6 L712.6 261.2 L713.5 260.8 L714.5 260.5 L715.4 260.1 L716.3 259.7 L717.3 259.4 L718.2 259.1 L719.1 258.7 L720.1 258.4 L721.0 258.1 L722.0 257.8 L722.9 257.5 L723.9 257.2 L724.8 256.9 L725.8 256.6 L726.7 256.3 L727.7 256.0 L728.6 255.8 L729.6 255.5 L730.6 255.3 L731.5 255.0 L732.5 254.8 L733.5 254.6 L734.4 254.4 L735.4 254.1 L736.4 253.9 L737.4 253.7 L738.3 253.5 L739.3 253.3 L740.3 253.2 L741.3 253.0 L742.3 252.8 L743.2 252.7 L744.2 252.5 L745.2 252.4 L746.2 252.2 L747.2 252.1 L748.2 251.9 L749.2 251.8 L750.1 251.7 L751.1 251.6 L752.1 251.5 L753.1 251.4 L754.1 251.3 L755.1 251.2 L756.1 251.1 L757.1 251.1 L758.1 251.0 L759.1 250.9 L760.1 250.9 L761.1 250.8 L762.1 250.8 L763.1 250.7 L764.1 250.7 L765.1 250.6 L766.1 250.6 L767.1 250.6 L768.1 250.6 L769.1 250.6 L770.1 250.6 L771.1 250.6 L772.1 250.6 L773.2 250.6 L774.2 250.6 L775.2 250.6 L776.2 250.6 L777.2 250.7 L778.2 250.7 L779.2 250.7 L780.2 250.8 L781.2 250.8 L782.2 250.9 L783.2 250.9 L784.3 251.0 L785.3 251.1 L786.3 251.1 L787.3 251.2 L788.3 251.3 L789.3 251.4 L790.3 251.5 L791.3 251.5 L792.3 251.6 L793.3 251.7 L794.3 251.8 L795.4 251.9 L796.4 252.1 L797.4 252.2 L798.4 252.3 L799.4 252.4 L800.4 252.5 L801.4 252.7 L802.4 252.8 L803.4 252.9 L804.4 253.1 L805.4 253.2 L806.4 253.4 L807.4 253.5 L808.4 253.7 L809.4 253.8 L810.5 254.0 L811.5 254.1 L812.5 254.3 L813.5 254.5 L814.5 254.6 L815.5 254.8 L816.5 255.0 L817.5 255.2 L818.4 255.4 L819.4 255.5 L820.4 255.7 L821.4 255.9 L822.4 256.1 L823.4 256.3 L824.4 256.5 L825.4 256.7 L826.4 256.9 L827.4 257.1 L828.4 257.3 L829.4 257.5 L830.3 257.7 L831.3 258.0 L832.3 258.2 L833.3 258.4 L834.3 258.6 L835.3 258.8 L836.2 259.1 L837.2 259.3 L838.2 259.5 L839.2 259.8 L840.1 260.0 L841.1 260.2 L842.1 260.5 L843.1 260.7 L844.0 261.0 L845.0 261.2 L846.0 261.4 L847.0 261.7 L847.9 262.0 L848.9 262.2 L849.9 262.5 L850.8 262.7 L851.8 263.0 L852.8 263.3 L853.7 263.5 L854.7 263.8 L855.7 264.1 L856.6 264.3 L857.6 264.6 L858.5 264.9 L859.5 265.2 L860.5 265.4 L861.4 265.7 L862.4 266.0 L863.3 266.3 L864.3 266.6 L865.3 266.9 L866.2 267.2 L867.2 267.5 L868.1 267.8 L869.1 268.1 L870.0 268.4 L871.0 268.7 L871.9 269.0 L872.9 269.3 L873.8 269.6 L874.8 269.9 L875.7 270.2 L876.7 270.5 L877.6 270.8 L878.6 271.1 L879.5 271.5 L880.5 271.8 L881.4 272.1 L882.3 272.4 L883.3 272.7 L884.2 273.1 L885.2 273.4 L886.1 273.7 L887.0 274.1 L888.0 274.4 L888.9 274.7 L889.9 275.1 L890.8 275.4 L891.7 275.7 L892.7 276.1 L893.6 276.4 L894.5 276.8 L895.5 277.1 L896.4 277.5 L897.4 277.8 L898.3 278.2 L899.2 278.5 L900.2 278.9 L901.1 279.2 L902.0 279.6 L902.9 279.9 L903.9 280.3 L904.8 280.7 L905.7 281.0 L906.7 281.4 L907.6 281.8 L908.5 282.1 L909.4 282.5 L910.4 282.9 L911.3 283.2 L912.2 283.6 L913.1 284.0 L914.1 284.4 L915.0 284.7 L915.9 285.1 L916.8 285.5 L917.8 285.9 L918.7 286.3 L919.6 286.6 L920.5 287.0 L921.5 287.4 L922.4 287.8 L923.3 288.2 L924.2 288.6 L925.1 289.0 L926.1 289.3 L927.0 289.7 L927.9 290.1 L928.8 290.5 L929.7 290.9 L930.6 291.3 L931.6 291.7 L932.5 292.1 L933.4 292.5 L934.3 292.9 L935.2 293.3 L936.1 293.7 L937.1 294.1 L938.0 294.5 L938.9 294.9 L939.8 295.3 L940.7 295.7 L941.6 296.1 L942.5 296.6 L943.5 297.0 L944.4 297.4 L945.3 297.8 L946.2 298.2 L947.1 298.6 L948.0 299.0 L948.9 299.4 L949.8 299.9 L950.7 300.3 L951.7 300.7 L952.6 301.1 L953.5 301.5 L954.4 301.9 L955.3 302.4 L956.2 302.8 L957.1 303.2 L958.0 303.6 L958.9 304.0 L959.8 304.5 L960.7 304.9 L961.6 305.3 L962.6 305.7 L963.5 306.2 L964.4 306.6 L965.3 307.0 L966.2 307.5 L967.1 307.9 L968.0 308.3 L968.9 308.7 L969.8 309.2 L970.7 309.6 L971.6 310.0 L972.5 310.5 L973.4 310.9 L974.3 311.3 L975.2 311.8 L976.2 312.2 L977.1 312.6 L978.0 313.1 L978.9 313.5 L979.8 313.9 L980.7 314.4 L981.6 314.8 L982.5 315.2 L983.4 315.7 L984.3 316.1 L985.2 316.6 L986.1 317.0 L987.0 317.4 L987.9 317.9 L988.8 318.3 L989.7 318.7 L990.6 319.2 L991.5 319.6 L992.4 320.1 L993.3 320.5 L994.3 320.9 L995.2 321.4 L996.1 321.8 L997.0 322.3 L997.9 322.7 L998.8 323.1 L999.7 323.6 L1000.6 324.0 L1001.5 324.5 L1002.4 324.9 L1003.3 325.3 L1004.2 325.8" stroke="#d98f95" stroke-width="4.8" stroke-dasharray="4.70 13.05 21.55 13.05" stroke-dashoffset="45.4"/>
<path d="M614.4 667.1 L614.6 666.1 L614.8 665.1 L615.0 664.1 L615.2 663.1 L615.4 662.2 L615.6 661.2 L615.8 660.2 L616.0 659.2 L616.2 658.2 L616.4 657.2 L616.6 656.2 L616.8 655.2 L617.0 654.2 L617.2 653.2 L617.4 652.2 L617.6 651.2 L617.8 650.2 L618.0 649.2 L618.2 648.2 L618.4 647.3 L618.6 646.3 L618.8 645.3 L619.0 644.3 L619.2 643.3 L619.4 642.3 L619.7 641.3 L619.9 640.3 L620.1 639.4 L620.3 638.4 L620.5 637.4 L620.7 636.4 L620.9 635.4 L621.1 634.4 L621.4 633.4 L621.6 632.5 L621.8 631.5 L622.0 630.5 L622.2 629.5 L622.4 628.5 L622.7 627.6 L622.9 626.6 L623.1 625.6 L623.3 624.6 L623.5 623.6 L623.7 622.7 L624.0 621.7 L624.2 620.7 L624.4 619.7 L624.6 618.7 L624.9 617.8 L625.1 616.8 L625.3 615.8 L625.5 614.8 L625.8 613.9 L626.0 612.9 L626.2 611.9 L626.4 610.9 L626.7 610.0 L626.9 609.0 L627.1 608.0 L627.3 607.0 L627.6 606.1 L627.8 605.1 L628.0 604.1 L628.3 603.1 L628.5 602.2 L628.7 601.2 L629.0 600.2 L629.2 599.3 L629.4 598.3 L629.7 597.3 L629.9 596.3 L630.1 595.4 L630.4 594.4 L630.6 593.4 L630.8 592.5 L631.1 591.5 L631.3 590.5 L631.6 589.6 L631.8 588.6 L632.0 587.6 L632.3 586.7 L632.5 585.7 L632.8 584.7 L633.0 583.8 L633.2 582.8 L633.5 581.8 L633.7 580.9 L634.0 579.9 L634.2 578.9 L634.5 578.0 L634.7 577.0 L634.9 576.0 L635.2 575.1 L635.4 574.1 L635.7 573.1 L635.9 572.2 L636.2 571.2 L636.4 570.2 L636.7 569.3 L636.9 568.3 L637.2 567.4 L637.4 566.4 L637.7 565.4 L638.0 564.5 L638.2 563.5 L638.5 562.5 L638.7 561.6 L639.0 560.6 L639.2 559.6 L639.5 558.7 L639.7 557.7 L640.0 556.8 L640.3 555.8 L640.5 554.8 L640.8 553.9 L641.0 552.9 L641.3 552.0 L641.6 551.0 L641.8 550.0 L642.1 549.1 L642.3 548.1 L642.6 547.1 L642.9 546.2 L643.1 545.2 L643.4 544.3 L643.7 543.3 L643.9 542.3 L644.2 541.4 L644.5 540.4 L644.7 539.5 L645.0 538.5 L645.3 537.5 L645.6 536.6 L645.8 535.6 L646.1 534.7 L646.4 533.7 L646.6 532.7 L646.9 531.8 L647.2 530.8 L647.5 529.9 L647.7 528.9 L648.0 527.9 L648.3 527.0 L648.6 526.0 L648.8 525.1 L649.1 524.1 L649.4 523.1 L649.7 522.2 L650.0 521.2 L650.2 520.3 L650.5 519.3 L650.8 518.3 L651.1 517.4 L651.4 516.4 L651.6 515.5 L651.9 514.5 L652.2 513.5 L652.5 512.6 L652.8 511.6 L653.1 510.6 L653.4 509.7 L653.7 508.7 L653.9 507.8 L654.2 506.8 L654.5 505.8 L654.8 504.9 L655.1 503.9 L655.4 503.0 L655.7 502.0 L656.0 501.0 L656.3 500.1 L656.6 499.1 L656.9 498.2 L657.2 497.2 L657.5 496.2 L657.7 495.3 L658.0 494.3 L658.3 493.3 L658.6 492.4 L658.9 491.4 L659.2 490.5 L659.5 489.5 L659.8 488.5 L660.2 487.6 L660.5 486.6 L660.8 485.6 L661.1 484.7 L661.4 483.7 L661.7 482.8 L662.0 481.8 L662.3 480.8 L662.6 479.9 L662.9 478.9 L663.2 478.0 L663.5 477.0 L663.9 476.0 L664.2 475.1 L664.5 474.1 L664.8 473.2 L665.1 472.2 L665.5 471.2 L665.8 470.3 L666.1 469.3 L666.4 468.4 L666.7 467.4 L667.1 466.4 L667.4 465.5 L667.7 464.5 L668.1 463.6 L668.4 462.6 L668.7 461.7 L669.1 460.7 L669.4 459.8 L669.7 458.8 L670.1 457.9 L670.4 456.9 L670.8 456.0 L671.1 455.0 L671.4 454.1 L671.8 453.1 L672.1 452.2 L672.5 451.2 L672.8 450.3 L673.2 449.3 L673.5 448.4 L673.9 447.4 L674.3 446.5 L674.6 445.5 L675.0 444.6 L675.3 443.7 L675.7 442.7 L676.1 441.8 L676.4 440.8 L676.8 439.9 L677.2 439.0 L677.6 438.0 L677.9 437.1 L678.3 436.1 L678.7 435.2 L679.1 434.3 L679.4 433.3 L679.8 432.4 L680.2 431.5 L680.6 430.5 L681.0 429.6 L681.4 428.7 L681.8 427.8 L682.2 426.8 L682.6 425.9 L683.0 425.0 L683.4 424.1 L683.8 423.1 L684.2 422.2 L684.6 421.3 L685.0 420.4 L685.4 419.5 L685.8 418.5 L686.3 417.6 L686.7 416.7 L687.1 415.8 L687.5 414.9 L688.0 414.0 L688.4 413.1 L688.8 412.2 L689.3 411.3 L689.7 410.4 L690.1 409.5 L690.6 408.6 L691.0 407.7 L691.5 406.8 L691.9 405.9 L692.4 405.0 L692.8 404.1 L693.3 403.2 L693.7 402.3 L694.2 401.4 L694.7 400.5 L695.1 399.6 L695.6 398.7 L696.1 397.8 L696.5 397.0 L697.0 396.1 L697.5 395.2 L698.0 394.3 L698.5 393.4 L698.9 392.6 L699.4 391.7 L699.9 390.8 L700.4 389.9 L700.9 389.1 L701.4 388.2 L701.9 387.3 L702.4 386.5 L703.0 385.6 L703.5 384.7 L704.0 383.9 L704.5 383.0 L705.0 382.2 L705.5 381.3 L706.1 380.5 L706.6 379.6 L707.1 378.8 L707.7 377.9 L708.2 377.1 L708.8 376.2 L709.3 375.4 L709.9 374.6 L710.4 373.7 L711.0 372.9 L711.5 372.1 L712.1 371.2 L712.7 370.4 L713.2 369.6 L713.8 368.7 L714.4 367.9 L715.0 367.1 L715.5 366.3 L716.1 365.5 L716.7 364.7 L717.3 363.8 L717.9 363.0 L718.5 362.2 L719.1 361.4 L719.7 360.6 L720.3 359.8 L720.9 359.0 L721.5 358.2 L722.2 357.4 L722.8 356.6 L723.4 355.8 L724.0 355.1 L724.7 354.3 L725.3 353.5 L726.0 352.7 L726.6 351.9 L727.2 351.2 L727.9 350.4 L728.6 349.6 L729.2 348.9 L729.9 348.1 L730.5 347.3 L731.2 346.6 L731.9 345.8 L732.5 345.1 L733.2 344.3 L733.9 343.6 L734.6 342.8 L735.3 342.1 L736.0 341.4 L736.7 340.6 L737.3 339.9 L738.0 339.2 L738.8 338.5 L739.5 337.8 L740.2 337.0 L740.9 336.3 L741.6 335.6 L742.3 334.9 L743.0 334.2 L743.8 333.5 L744.5 332.9 L745.2 332.2 L746.0 331.5 L746.7 330.8 L747.4 330.1 L748.2 329.5 L748.9 328.8 L749.7 328.1 L750.4 327.5 L751.2 326.8 L752.0 326.2 L752.7 325.5 L753.5 324.9 L754.3 324.3 L755.0 323.6 L755.8 323.0 L756.6 322.4 L757.4 321.8 L758.2 321.2 L759.0 320.5 L759.8 319.9 L760.5 319.3 L761.3 318.8 L762.1 318.2 L763.0 317.6 L763.8 317.0 L764.6 316.4 L765.4 315.9 L766.2 315.3 L767.0 314.7 L767.9 314.2 L768.7 313.7 L769.5 313.1 L770.3 312.6 L771.2 312.0 L772.0 311.5 L772.9 311.0 L773.7 310.5 L774.6 310.0 L775.4 309.5 L776.3 309.0 L777.1 308.5 L778.0 308.0 L778.8 307.5 L779.7 307.1 L780.6 306.6 L781.4 306.1 L782.3 305.7 L783.2 305.2 L784.1 304.8 L785.0 304.3 L785.9 303.9 L786.7 303.5 L787.6 303.1 L788.5 302.7 L789.4 302.3 L790.3 301.9 L791.2 301.5 L792.1 301.1 L793.0 300.7 L794.0 300.3 L794.9 299.9 L795.8 299.6 L796.7 299.2 L797.6 298.9 L798.6 298.5 L799.5 298.2 L800.4 297.9 L801.3 297.5 L802.3 297.2 L803.2 296.9 L804.2 296.6 L805.1 296.3 L806.0 296.0 L807.0 295.7 L807.9 295.4 L808.9 295.1 L809.8 294.9 L810.8 294.6 L811.7 294.3 L812.7 294.1 L813.7 293.8 L814.6 293.6 L815.6 293.3 L816.5 293.1 L817.5 292.9 L818.5 292.7 L819.4 292.4 L820.4 292.2 L821.4 292.0 L822.4 291.8 L823.3 291.6 L824.3 291.5 L825.3 291.3 L826.3 291.1 L827.3 290.9 L828.2 290.8 L829.2 290.6 L830.2 290.5 L831.2 290.3 L832.2 290.2 L833.2 290.0 L834.2 289.9 L835.1 289.8 L836.1 289.7 L837.1 289.5 L838.1 289.4 L839.1 289.3 L840.1 289.2 L841.1 289.1 L842.1 289.1 L843.1 289.0 L844.1 288.9 L845.1 288.8 L846.1 288.8 L847.1 288.7 L848.1 288.7 L849.1 288.6 L850.1 288.6 L851.1 288.5 L852.1 288.5 L853.1 288.5 L854.1 288.5 L855.1 288.4 L856.1 288.4 L857.1 288.4 L858.1 288.4 L859.1 288.4 L860.1 288.4 L861.2 288.5 L862.2 288.5 L863.2 288.5 L864.2 288.5 L865.2 288.6 L866.2 288.6 L867.2 288.7 L868.2 288.7 L869.2 288.8 L870.2 288.8 L871.2 288.9 L872.2 289.0 L873.2 289.0 L874.2 289.1 L875.2 289.2 L876.3 289.3 L877.3 289.4 L878.3 289.5 L879.3 289.6 L880.3 289.7 L881.3 289.8 L882.3 289.9 L883.3 290.0 L884.3 290.2 L885.3 290.3 L886.3 290.4 L887.3 290.5 L888.3 290.7 L889.3 290.8 L890.3 291.0 L891.3 291.1 L892.3 291.3 L893.4 291.4 L894.4 291.6 L895.4 291.8 L896.4 291.9 L897.4 292.1 L898.4 292.3 L899.4 292.5 L900.4 292.7 L901.4 292.8 L902.4 293.0 L903.4 293.2 L904.4 293.4 L905.4 293.6 L906.4 293.8 L907.4 294.0 L908.4 294.2 L909.4 294.5 L910.4 294.7 L911.4 294.9 L912.3 295.1 L913.3 295.3 L914.3 295.6 L915.3 295.8 L916.3 296.0 L917.3 296.3 L918.3 296.5 L919.3 296.7 L920.3 297.0 L921.3 297.2 L922.3 297.5 L923.3 297.7 L924.2 298.0 L925.2 298.3 L926.2 298.5 L927.2 298.8 L928.2 299.0 L929.2 299.3 L930.1 299.6 L931.1 299.8 L932.1 300.1 L933.1 300.4 L934.1 300.7 L935.0 300.9 L936.0 301.2 L937.0 301.5 L938.0 301.8 L938.9 302.1 L939.9 302.4 L940.9 302.7 L941.9 302.9 L942.8 303.2 L943.8 303.5 L944.8 303.8 L945.7 304.1 L946.7 304.4 L947.7 304.7 L948.6 305.0 L949.6 305.3 L950.6 305.6 L951.5 305.9 L952.5 306.3 L953.4 306.6 L954.4 306.9 L955.4 307.2 L956.3 307.5 L957.3 307.8 L958.2 308.1 L959.2 308.4 L960.1 308.8 L961.1 309.1 L962.0 309.4 L963.0 309.7 L963.9 310.0 L964.9 310.4 L965.8 310.7 L966.8 311.0 L967.7 311.3 L968.6 311.6 L969.6 312.0 L970.5 312.3 L971.5 312.6 L972.4 312.9 L973.3 313.3 L974.3 313.6 L975.2 313.9 L976.1 314.3 L977.1 314.6 L978.0 314.9 L978.9 315.2 L979.9 315.6 L980.8 315.9 L981.7 316.2 L982.7 316.6 L983.6 316.9 L984.5 317.2 L985.4 317.5 L986.3 317.9 L987.3 318.2 L988.2 318.5 L989.1 318.9 L990.0 319.2 L990.9 319.5 L991.8 319.8 L992.8 320.2 L993.7 320.5 L994.6 320.8 L995.5 321.2 L996.4 321.5 L997.3 321.8 L998.2 322.1 L999.1 322.5 L1000.0 322.8 L1000.9 323.1 L1001.8 323.4 L1002.7 323.7 L1003.6 324.1" stroke="#ad1720" stroke-width="4.8" stroke-dasharray="4.70 13.05 28.90 13.05" stroke-dashoffset="52.6"/>
<path d="M683.9 667.0 L684.1 666.0 L684.2 665.0 L684.4 664.0 L684.6 663.0 L684.7 662.0 L684.9 661.0 L685.1 660.0 L685.2 659.0 L685.4 658.0 L685.6 657.0 L685.8 656.0 L685.9 655.0 L686.1 654.0 L686.3 653.1 L686.5 652.1 L686.7 651.1 L686.9 650.1 L687.1 649.1 L687.2 648.1 L687.4 647.1 L687.6 646.1 L687.8 645.2 L688.0 644.2 L688.2 643.2 L688.4 642.2 L688.6 641.2 L688.8 640.2 L689.0 639.3 L689.2 638.3 L689.4 637.3 L689.6 636.3 L689.8 635.3 L690.1 634.3 L690.3 633.4 L690.5 632.4 L690.7 631.4 L690.9 630.4 L691.1 629.5 L691.3 628.5 L691.6 627.5 L691.8 626.5 L692.0 625.6 L692.2 624.6 L692.5 623.6 L692.7 622.6 L692.9 621.7 L693.1 620.7 L693.4 619.7 L693.6 618.7 L693.8 617.8 L694.1 616.8 L694.3 615.8 L694.5 614.9 L694.8 613.9 L695.0 612.9 L695.2 611.9 L695.5 611.0 L695.7 610.0 L696.0 609.0 L696.2 608.1 L696.5 607.1 L696.7 606.1 L697.0 605.2 L697.2 604.2 L697.5 603.2 L697.7 602.3 L698.0 601.3 L698.2 600.3 L698.5 599.4 L698.7 598.4 L699.0 597.4 L699.2 596.5 L699.5 595.5 L699.8 594.6 L700.0 593.6 L700.3 592.6 L700.5 591.7 L700.8 590.7 L701.1 589.7 L701.3 588.8 L701.6 587.8 L701.9 586.9 L702.1 585.9 L702.4 584.9 L702.7 584.0 L703.0 583.0 L703.2 582.1 L703.5 581.1 L703.8 580.1 L704.0 579.2 L704.3 578.2 L704.6 577.3 L704.9 576.3 L705.2 575.3 L705.4 574.4 L705.7 573.4 L706.0 572.5 L706.3 571.5 L706.6 570.6 L706.8 569.6 L707.1 568.6 L707.4 567.7 L707.7 566.7 L708.0 565.8 L708.3 564.8 L708.6 563.8 L708.9 562.9 L709.1 561.9 L709.4 561.0 L709.7 560.0 L710.0 559.1 L710.3 558.1 L710.6 557.2 L710.9 556.2 L711.2 555.2 L711.5 554.3 L711.8 553.3 L712.1 552.4 L712.4 551.4 L712.7 550.5 L713.0 549.5 L713.3 548.5 L713.6 547.6 L713.9 546.6 L714.2 545.7 L714.5 544.7 L714.8 543.8 L715.1 542.8 L715.4 541.9 L715.7 540.9 L716.0 539.9 L716.3 539.0 L716.6 538.0 L716.9 537.1 L717.2 536.1 L717.5 535.2 L717.8 534.2 L718.1 533.2 L718.4 532.3 L718.7 531.3 L719.0 530.4 L719.4 529.4 L719.7 528.5 L720.0 527.5 L720.3 526.6 L720.6 525.6 L720.9 524.6 L721.2 523.7 L721.6 522.7 L721.9 521.8 L722.2 520.8 L722.5 519.9 L722.8 518.9 L723.2 518.0 L723.5 517.0 L723.8 516.1 L724.1 515.1 L724.4 514.2 L724.8 513.2 L725.1 512.3 L725.4 511.3 L725.8 510.4 L726.1 509.4 L726.4 508.4 L726.8 507.5 L727.1 506.6 L727.4 505.6 L727.8 504.7 L728.1 503.7 L728.4 502.8 L728.8 501.8 L729.1 500.9 L729.5 499.9 L729.8 499.0 L730.1 498.0 L730.5 497.1 L730.8 496.1 L731.2 495.2 L731.5 494.2 L731.9 493.3 L732.2 492.4 L732.6 491.4 L733.0 490.5 L733.3 489.5 L733.7 488.6 L734.0 487.7 L734.4 486.7 L734.8 485.8 L735.1 484.9 L735.5 483.9 L735.9 483.0 L736.2 482.0 L736.6 481.1 L737.0 480.2 L737.3 479.2 L737.7 478.3 L738.1 477.4 L738.5 476.5 L738.9 475.5 L739.2 474.6 L739.6 473.7 L740.0 472.7 L740.4 471.8 L740.8 470.9 L741.2 470.0 L741.6 469.0 L742.0 468.1 L742.4 467.2 L742.8 466.3 L743.2 465.4 L743.6 464.4 L744.0 463.5 L744.4 462.6 L744.8 461.7 L745.2 460.8 L745.6 459.9 L746.0 458.9 L746.5 458.0 L746.9 457.1 L747.3 456.2 L747.7 455.3 L748.1 454.4 L748.6 453.5 L749.0 452.6 L749.4 451.7 L749.9 450.8 L750.3 449.9 L750.7 449.0 L751.2 448.1 L751.6 447.2 L752.1 446.3 L752.5 445.4 L753.0 444.5 L753.4 443.6 L753.9 442.7 L754.3 441.8 L754.8 440.9 L755.3 440.0 L755.7 439.1 L756.2 438.2 L756.7 437.4 L757.1 436.5 L757.6 435.6 L758.1 434.7 L758.6 433.8 L759.1 433.0 L759.5 432.1 L760.0 431.2 L760.5 430.3 L761.0 429.5 L761.5 428.6 L762.0 427.7 L762.5 426.8 L763.0 426.0 L763.5 425.1 L764.0 424.3 L764.5 423.4 L765.0 422.5 L765.6 421.7 L766.1 420.8 L766.6 420.0 L767.1 419.1 L767.7 418.2 L768.2 417.4 L768.7 416.5 L769.3 415.7 L769.8 414.8 L770.3 414.0 L770.9 413.2 L771.4 412.3 L772.0 411.5 L772.5 410.6 L773.1 409.8 L773.7 409.0 L774.2 408.1 L774.8 407.3 L775.4 406.5 L775.9 405.6 L776.5 404.8 L777.1 404.0 L777.7 403.2 L778.3 402.3 L778.9 401.5 L779.4 400.7 L780.0 399.9 L780.6 399.1 L781.2 398.3 L781.8 397.5 L782.4 396.7 L783.1 395.9 L783.7 395.1 L784.3 394.3 L784.9 393.5 L785.5 392.7 L786.2 391.9 L786.8 391.1 L787.4 390.3 L788.1 389.6 L788.7 388.8 L789.3 388.0 L790.0 387.2 L790.6 386.5 L791.3 385.7 L791.9 385.0 L792.6 384.2 L793.3 383.4 L793.9 382.7 L794.6 381.9 L795.3 381.2 L795.9 380.5 L796.6 379.7 L797.3 379.0 L798.0 378.3 L798.7 377.5 L799.4 376.8 L800.1 376.1 L800.8 375.4 L801.5 374.7 L802.2 373.9 L802.9 373.2 L803.6 372.5 L804.3 371.8 L805.0 371.2 L805.7 370.5 L806.5 369.8 L807.2 369.1 L807.9 368.4 L808.7 367.8 L809.4 367.1 L810.2 366.4 L810.9 365.8 L811.7 365.1 L812.4 364.5 L813.2 363.8 L813.9 363.2 L814.7 362.5 L815.5 361.9 L816.2 361.3 L817.0 360.7 L817.8 360.0 L818.6 359.4 L819.3 358.8 L820.1 358.2 L820.9 357.6 L821.7 357.0 L822.5 356.4 L823.3 355.9 L824.1 355.3 L824.9 354.7 L825.8 354.1 L826.6 353.6 L827.4 353.0 L828.2 352.5 L829.0 351.9 L829.9 351.4 L830.7 350.8 L831.5 350.3 L832.4 349.8 L833.2 349.3 L834.1 348.7 L834.9 348.2 L835.8 347.7 L836.6 347.2 L837.5 346.7 L838.4 346.2 L839.2 345.7 L840.1 345.3 L841.0 344.8 L841.8 344.3 L842.7 343.9 L843.6 343.4 L844.5 342.9 L845.3 342.5 L846.2 342.1 L847.1 341.6 L848.0 341.2 L848.9 340.8 L849.8 340.3 L850.7 339.9 L851.6 339.5 L852.5 339.1 L853.4 338.7 L854.3 338.3 L855.2 337.9 L856.2 337.5 L857.1 337.2 L858.0 336.8 L858.9 336.4 L859.8 336.1 L860.8 335.7 L861.7 335.4 L862.6 335.0 L863.6 334.7 L864.5 334.4 L865.4 334.0 L866.4 333.7 L867.3 333.4 L868.3 333.1 L869.2 332.8 L870.2 332.5 L871.1 332.2 L872.1 331.9 L873.0 331.6 L874.0 331.4 L874.9 331.1 L875.9 330.8 L876.9 330.6 L877.8 330.3 L878.8 330.1 L879.7 329.9 L880.7 329.6 L881.7 329.4 L882.7 329.2 L883.6 329.0 L884.6 328.8 L885.6 328.6 L886.6 328.4 L887.6 328.2 L888.5 328.0 L889.5 327.8 L890.5 327.7 L891.5 327.5 L892.5 327.3 L893.5 327.2 L894.5 327.0 L895.4 326.9 L896.4 326.8 L897.4 326.6 L898.4 326.5 L899.4 326.4 L900.4 326.3 L901.4 326.2 L902.4 326.0 L903.4 326.0 L904.4 325.9 L905.4 325.8 L906.4 325.7 L907.4 325.6 L908.4 325.5 L909.4 325.5 L910.5 325.4 L911.5 325.4 L912.5 325.3 L913.5 325.3 L914.5 325.2 L915.5 325.2 L916.5 325.1 L917.5 325.1 L918.5 325.1 L919.5 325.1 L920.6 325.1 L921.6 325.1 L922.6 325.1 L923.6 325.1 L924.6 325.1 L925.6 325.1 L926.6 325.1 L927.7 325.1 L928.7 325.1 L929.7 325.2 L930.7 325.2 L931.7 325.2 L932.7 325.3 L933.7 325.3 L934.8 325.4 L935.8 325.4 L936.8 325.5 L937.8 325.6 L938.8 325.6 L939.8 325.7 L940.8 325.8 L941.9 325.9 L942.9 326.0 L943.9 326.1 L944.9 326.2 L945.9 326.3 L946.9 326.4 L947.9 326.5 L948.9 326.6 L950.0 326.7 L951.0 326.8 L952.0 326.9 L953.0 327.1 L954.0 327.2 L955.0 327.3 L956.0 327.5 L957.0 327.6 L958.0 327.8 L959.0 327.9 L960.0 328.1 L961.0 328.2 L962.0 328.4 L963.0 328.6 L964.0 328.7 L965.0 328.9 L966.0 329.1 L967.0 329.3 L968.0 329.4 L969.0 329.6 L970.0 329.8 L971.0 330.0 L972.0 330.2 L973.0 330.4 L974.0 330.6 L974.9 330.8 L975.9 331.0 L976.9 331.2 L977.9 331.5 L978.9 331.7 L979.8 331.9 L980.8 332.1 L981.8 332.4 L982.8 332.6 L983.7 332.8 L984.7 333.1 L985.7 333.3 L986.7 333.5 L987.6 333.8 L988.6 334.0 L989.5 334.3 L990.5 334.5 L991.5 334.8 L992.4 335.1 L993.4 335.3 L994.3 335.6 L995.3 335.9 L996.2 336.1 L997.2 336.4 L998.1 336.7 L999.0 337.0 L1000.0 337.2 L1000.9 337.5 L1001.9 337.8 L1002.8 338.1 L1003.7 338.4" stroke="#e8ba5d" stroke-width="4.8" stroke-dasharray="4.70 13.05 21.55 13.05 4.70 13.05" stroke-dashoffset="64.3"/>
<path d="M735.4 666.8 L735.6 665.9 L735.9 664.9 L736.2 664.0 L736.4 663.0 L736.7 662.1 L737.0 661.1 L737.3 660.2 L737.5 659.2 L737.8 658.2 L738.1 657.3 L738.3 656.3 L738.6 655.4 L738.9 654.4 L739.1 653.5 L739.4 652.5 L739.7 651.5 L739.9 650.6 L740.2 649.6 L740.5 648.7 L740.7 647.7 L741.0 646.7 L741.3 645.8 L741.5 644.8 L741.8 643.9 L742.1 642.9 L742.3 641.9 L742.6 641.0 L742.9 640.0 L743.1 639.0 L743.4 638.1 L743.7 637.1 L743.9 636.2 L744.2 635.2 L744.5 634.2 L744.7 633.3 L745.0 632.3 L745.3 631.3 L745.5 630.4 L745.8 629.4 L746.1 628.5 L746.3 627.5 L746.6 626.5 L746.9 625.6 L747.1 624.6 L747.4 623.6 L747.7 622.7 L747.9 621.7 L748.2 620.7 L748.5 619.8 L748.7 618.8 L749.0 617.8 L749.3 616.9 L749.6 615.9 L749.8 614.9 L750.1 614.0 L750.4 613.0 L750.6 612.0 L750.9 611.1 L751.2 610.1 L751.5 609.2 L751.7 608.2 L752.0 607.2 L752.3 606.3 L752.6 605.3 L752.8 604.3 L753.1 603.4 L753.4 602.4 L753.7 601.4 L753.9 600.5 L754.2 599.5 L754.5 598.5 L754.8 597.6 L755.1 596.6 L755.3 595.6 L755.6 594.7 L755.9 593.7 L756.2 592.8 L756.5 591.8 L756.7 590.8 L757.0 589.9 L757.3 588.9 L757.6 587.9 L757.9 587.0 L758.2 586.0 L758.5 585.0 L758.8 584.1 L759.0 583.1 L759.3 582.2 L759.6 581.2 L759.9 580.2 L760.2 579.3 L760.5 578.3 L760.8 577.4 L761.1 576.4 L761.4 575.4 L761.7 574.5 L762.0 573.5 L762.3 572.6 L762.6 571.6 L762.9 570.6 L763.2 569.7 L763.5 568.7 L763.8 567.8 L764.1 566.8 L764.4 565.9 L764.7 564.9 L765.0 564.0 L765.3 563.0 L765.7 562.0 L766.0 561.1 L766.3 560.1 L766.6 559.2 L766.9 558.2 L767.2 557.3 L767.5 556.3 L767.9 555.4 L768.2 554.4 L768.5 553.5 L768.8 552.5 L769.1 551.6 L769.5 550.6 L769.8 549.7 L770.1 548.7 L770.5 547.8 L770.8 546.8 L771.1 545.9 L771.4 544.9 L771.8 544.0 L772.1 543.0 L772.5 542.1 L772.8 541.2 L773.1 540.2 L773.5 539.3 L773.8 538.3 L774.2 537.4 L774.5 536.5 L774.9 535.5 L775.2 534.6 L775.5 533.6 L775.9 532.7 L776.3 531.8 L776.6 530.8 L777.0 529.9 L777.3 529.0 L777.7 528.0 L778.0 527.1 L778.4 526.1 L778.8 525.2 L779.1 524.3 L779.5 523.4 L779.9 522.4 L780.2 521.5 L780.6 520.6 L781.0 519.6 L781.4 518.7 L781.7 517.8 L782.1 516.9 L782.5 515.9 L782.9 515.0 L783.3 514.1 L783.6 513.2 L784.0 512.2 L784.4 511.3 L784.8 510.4 L785.2 509.5 L785.6 508.6 L786.0 507.6 L786.4 506.7 L786.8 505.8 L787.2 504.9 L787.6 504.0 L788.0 503.1 L788.4 502.2 L788.8 501.2 L789.2 500.3 L789.7 499.4 L790.1 498.5 L790.5 497.6 L790.9 496.7 L791.3 495.8 L791.8 494.9 L792.2 494.0 L792.6 493.1 L793.1 492.2 L793.5 491.3 L793.9 490.4 L794.4 489.5 L794.8 488.6 L795.2 487.7 L795.7 486.8 L796.1 485.9 L796.6 485.0 L797.0 484.1 L797.5 483.2 L797.9 482.3 L798.4 481.5 L798.8 480.6 L799.3 479.7 L799.8 478.8 L800.2 477.9 L800.7 477.0 L801.2 476.1 L801.7 475.3 L802.1 474.4 L802.6 473.5 L803.1 472.6 L803.6 471.8 L804.1 470.9 L804.5 470.0 L805.0 469.1 L805.5 468.3 L806.0 467.4 L806.5 466.5 L807.0 465.7 L807.5 464.8 L808.0 463.9 L808.5 463.1 L809.0 462.2 L809.6 461.3 L810.1 460.5 L810.6 459.6 L811.1 458.8 L811.6 457.9 L812.2 457.0 L812.7 456.2 L813.2 455.3 L813.8 454.5 L814.3 453.6 L814.8 452.8 L815.4 451.9 L815.9 451.1 L816.5 450.3 L817.0 449.4 L817.6 448.6 L818.1 447.7 L818.7 446.9 L819.2 446.1 L819.8 445.2 L820.4 444.4 L820.9 443.6 L821.5 442.7 L822.1 441.9 L822.7 441.1 L823.3 440.2 L823.8 439.4 L824.4 438.6 L825.0 437.8 L825.6 437.0 L826.2 436.1 L826.8 435.3 L827.4 434.5 L828.0 433.7 L828.6 432.9 L829.2 432.1 L829.8 431.3 L830.4 430.5 L831.1 429.7 L831.7 428.9 L832.3 428.1 L832.9 427.3 L833.6 426.5 L834.2 425.8 L834.8 425.0 L835.5 424.2 L836.1 423.4 L836.8 422.6 L837.4 421.9 L838.1 421.1 L838.7 420.3 L839.4 419.6 L840.0 418.8 L840.7 418.1 L841.4 417.3 L842.0 416.6 L842.7 415.8 L843.4 415.1 L844.0 414.3 L844.7 413.6 L845.4 412.9 L846.1 412.1 L846.8 411.4 L847.5 410.7 L848.2 409.9 L848.9 409.2 L849.6 408.5 L850.3 407.8 L851.0 407.1 L851.7 406.4 L852.4 405.7 L853.1 405.0 L853.8 404.3 L854.6 403.6 L855.3 402.9 L856.0 402.3 L856.8 401.6 L857.5 400.9 L858.2 400.3 L859.0 399.6 L859.7 398.9 L860.5 398.3 L861.2 397.6 L862.0 397.0 L862.7 396.3 L863.5 395.7 L864.2 395.1 L865.0 394.4 L865.8 393.8 L866.6 393.2 L867.3 392.6 L868.1 392.0 L868.9 391.4 L869.7 390.8 L870.5 390.2 L871.3 389.6 L872.1 389.0 L872.9 388.4 L873.7 387.8 L874.5 387.3 L875.3 386.7 L876.1 386.1 L876.9 385.6 L877.7 385.0 L878.5 384.5 L879.4 383.9 L880.2 383.4 L881.0 382.9 L881.9 382.3 L882.7 381.8 L883.5 381.3 L884.4 380.8 L885.2 380.3 L886.1 379.8 L886.9 379.3 L887.8 378.8 L888.7 378.3 L889.5 377.9 L890.4 377.4 L891.3 376.9 L892.1 376.5 L893.0 376.0 L893.9 375.6 L894.8 375.1 L895.7 374.7 L896.6 374.3 L897.5 373.8 L898.3 373.4 L899.2 373.0 L900.2 372.6 L901.1 372.2 L902.0 371.8 L902.9 371.4 L903.8 371.1 L904.7 370.7 L905.7 370.3 L906.6 370.0 L907.5 369.6 L908.5 369.3 L909.4 368.9 L910.3 368.6 L911.3 368.3 L912.2 368.0 L913.2 367.6 L914.1 367.3 L915.1 367.0 L916.1 366.7 L917.0 366.5 L918.0 366.2 L918.9 365.9 L919.9 365.6 L920.9 365.4 L921.9 365.1 L922.8 364.9 L923.8 364.6 L924.8 364.4 L925.8 364.1 L926.8 363.9 L927.8 363.7 L928.8 363.5 L929.8 363.3 L930.7 363.1 L931.7 362.9 L932.7 362.7 L933.7 362.5 L934.7 362.3 L935.7 362.1 L936.8 361.9 L937.8 361.8 L938.8 361.6 L939.8 361.5 L940.8 361.3 L941.8 361.2 L942.8 361.0 L943.8 360.9 L944.8 360.8 L945.8 360.6 L946.9 360.5 L947.9 360.4 L948.9 360.3 L949.9 360.2 L950.9 360.1 L951.9 360.0 L953.0 359.9 L954.0 359.8 L955.0 359.8 L956.0 359.7 L957.0 359.6 L958.1 359.6 L959.1 359.5 L960.1 359.4 L961.1 359.4 L962.1 359.4 L963.1 359.3 L964.2 359.3 L965.2 359.2 L966.2 359.2 L967.2 359.2 L968.2 359.2 L969.2 359.2 L970.3 359.2 L971.3 359.2 L972.3 359.2 L973.3 359.2 L974.3 359.2 L975.3 359.2 L976.3 359.2 L977.3 359.2 L978.3 359.3 L979.3 359.3 L980.3 359.3 L981.3 359.4 L982.3 359.4 L983.3 359.4 L984.3 359.5 L985.3 359.5 L986.3 359.6 L987.3 359.7 L988.3 359.7 L989.3 359.8 L990.3 359.9 L991.3 359.9 L992.2 360.0 L993.2 360.1 L994.2 360.2 L995.2 360.3 L996.1 360.4 L997.1 360.5 L998.1 360.6 L999.0 360.7 L1000.0 360.8 L1000.9 360.9 L1001.9 361.0 L1002.8 361.1 L1003.8 361.2" stroke="#cc6d1c" stroke-width="4.8" stroke-dasharray="21.55 13.05 4.70 13.05 21.55 13.05" stroke-dashoffset="81.4"/>
<path d="M777.6 666.8 L777.8 665.9 L778.1 664.9 L778.4 664.0 L778.6 663.0 L778.9 662.0 L779.1 661.1 L779.4 660.1 L779.7 659.2 L779.9 658.2 L780.2 657.3 L780.4 656.3 L780.7 655.3 L781.0 654.4 L781.2 653.4 L781.5 652.5 L781.8 651.5 L782.0 650.5 L782.3 649.6 L782.6 648.6 L782.8 647.7 L783.1 646.7 L783.4 645.7 L783.6 644.8 L783.9 643.8 L784.2 642.9 L784.4 641.9 L784.7 641.0 L785.0 640.0 L785.2 639.0 L785.5 638.1 L785.8 637.1 L786.1 636.2 L786.3 635.2 L786.6 634.2 L786.9 633.3 L787.2 632.3 L787.4 631.4 L787.7 630.4 L788.0 629.4 L788.3 628.5 L788.5 627.5 L788.8 626.6 L789.1 625.6 L789.4 624.6 L789.7 623.7 L790.0 622.7 L790.2 621.8 L790.5 620.8 L790.8 619.9 L791.1 618.9 L791.4 617.9 L791.7 617.0 L792.0 616.0 L792.2 615.1 L792.5 614.1 L792.8 613.2 L793.1 612.2 L793.4 611.2 L793.7 610.3 L794.0 609.3 L794.3 608.4 L794.6 607.4 L794.9 606.5 L795.2 605.5 L795.5 604.5 L795.8 603.6 L796.1 602.6 L796.4 601.7 L796.7 600.7 L797.0 599.8 L797.3 598.8 L797.6 597.9 L797.9 596.9 L798.2 595.9 L798.5 595.0 L798.9 594.0 L799.2 593.1 L799.5 592.1 L799.8 591.2 L800.1 590.2 L800.4 589.3 L800.7 588.3 L801.1 587.4 L801.4 586.4 L801.7 585.5 L802.0 584.5 L802.4 583.6 L802.7 582.6 L803.0 581.7 L803.3 580.7 L803.7 579.8 L804.0 578.8 L804.3 577.9 L804.7 576.9 L805.0 576.0 L805.3 575.0 L805.7 574.1 L806.0 573.1 L806.3 572.2 L806.7 571.3 L807.0 570.3 L807.4 569.4 L807.7 568.4 L808.1 567.5 L808.4 566.5 L808.8 565.6 L809.1 564.6 L809.5 563.7 L809.8 562.8 L810.2 561.8 L810.5 560.9 L810.9 559.9 L811.2 559.0 L811.6 558.1 L812.0 557.1 L812.3 556.2 L812.7 555.2 L813.1 554.3 L813.4 553.4 L813.8 552.4 L814.2 551.5 L814.5 550.6 L814.9 549.6 L815.3 548.7 L815.7 547.8 L816.1 546.8 L816.4 545.9 L816.8 545.0 L817.2 544.0 L817.6 543.1 L818.0 542.2 L818.4 541.2 L818.8 540.3 L819.2 539.4 L819.6 538.5 L820.0 537.5 L820.4 536.6 L820.8 535.7 L821.2 534.7 L821.6 533.8 L822.0 532.9 L822.4 532.0 L822.8 531.0 L823.2 530.1 L823.6 529.2 L824.0 528.3 L824.4 527.4 L824.9 526.4 L825.3 525.5 L825.7 524.6 L826.1 523.7 L826.6 522.8 L827.0 521.9 L827.4 520.9 L827.9 520.0 L828.3 519.1 L828.7 518.2 L829.2 517.3 L829.6 516.4 L830.1 515.5 L830.5 514.6 L830.9 513.7 L831.4 512.8 L831.9 511.9 L832.3 511.0 L832.8 510.1 L833.2 509.2 L833.7 508.3 L834.1 507.4 L834.6 506.5 L835.1 505.6 L835.6 504.7 L836.0 503.8 L836.5 502.9 L837.0 502.0 L837.5 501.1 L838.0 500.3 L838.4 499.4 L838.9 498.5 L839.4 497.6 L839.9 496.7 L840.4 495.8 L840.9 495.0 L841.4 494.1 L841.9 493.2 L842.4 492.4 L842.9 491.5 L843.4 490.6 L844.0 489.8 L844.5 488.9 L845.0 488.0 L845.5 487.2 L846.1 486.3 L846.6 485.5 L847.1 484.6 L847.6 483.8 L848.2 482.9 L848.7 482.1 L849.3 481.2 L849.8 480.4 L850.4 479.5 L850.9 478.7 L851.5 477.9 L852.0 477.0 L852.6 476.2 L853.2 475.4 L853.7 474.5 L854.3 473.7 L854.9 472.9 L855.5 472.1 L856.0 471.2 L856.6 470.4 L857.2 469.6 L857.8 468.8 L858.4 468.0 L859.0 467.2 L859.6 466.4 L860.2 465.6 L860.8 464.8 L861.4 464.0 L862.0 463.2 L862.6 462.4 L863.3 461.6 L863.9 460.8 L864.5 460.0 L865.1 459.3 L865.8 458.5 L866.4 457.7 L867.0 456.9 L867.7 456.2 L868.3 455.4 L869.0 454.6 L869.6 453.9 L870.3 453.1 L871.0 452.4 L871.6 451.6 L872.3 450.9 L873.0 450.1 L873.6 449.4 L874.3 448.6 L875.0 447.9 L875.7 447.2 L876.4 446.4 L877.1 445.7 L877.7 445.0 L878.4 444.3 L879.1 443.6 L879.8 442.8 L880.6 442.1 L881.3 441.4 L882.0 440.7 L882.7 440.0 L883.4 439.3 L884.1 438.6 L884.9 438.0 L885.6 437.3 L886.3 436.6 L887.1 435.9 L887.8 435.2 L888.6 434.6 L889.3 433.9 L890.0 433.2 L890.8 432.6 L891.6 431.9 L892.3 431.3 L893.1 430.6 L893.8 430.0 L894.6 429.4 L895.4 428.7 L896.2 428.1 L896.9 427.5 L897.7 426.9 L898.5 426.3 L899.3 425.6 L900.1 425.0 L900.9 424.4 L901.7 423.8 L902.5 423.3 L903.3 422.7 L904.1 422.1 L904.9 421.5 L905.7 420.9 L906.5 420.4 L907.3 419.8 L908.1 419.2 L909.0 418.7 L909.8 418.1 L910.6 417.6 L911.4 417.0 L912.3 416.5 L913.1 416.0 L914.0 415.5 L914.8 414.9 L915.6 414.4 L916.5 413.9 L917.3 413.4 L918.2 412.9 L919.1 412.4 L919.9 411.9 L920.8 411.4 L921.7 411.0 L922.5 410.5 L923.4 410.0 L924.3 409.5 L925.1 409.1 L926.0 408.6 L926.9 408.2 L927.8 407.7 L928.7 407.3 L929.6 406.9 L930.5 406.5 L931.4 406.0 L932.3 405.6 L933.2 405.2 L934.1 404.8 L935.0 404.4 L935.9 404.0 L936.8 403.7 L937.7 403.3 L938.6 402.9 L939.6 402.5 L940.5 402.2 L941.4 401.8 L942.4 401.5 L943.3 401.1 L944.2 400.8 L945.2 400.5 L946.1 400.1 L947.0 399.8 L948.0 399.5 L948.9 399.2 L949.9 398.9 L950.8 398.6 L951.8 398.3 L952.8 398.1 L953.7 397.8 L954.7 397.5 L955.6 397.3 L956.6 397.0 L957.6 396.8 L958.6 396.5 L959.5 396.3 L960.5 396.1 L961.5 395.9 L962.5 395.6 L963.5 395.4 L964.5 395.2 L965.4 395.1 L966.4 394.9 L967.4 394.7 L968.4 394.5 L969.4 394.4 L970.4 394.2 L971.4 394.1 L972.5 393.9 L973.5 393.8 L974.5 393.7 L975.5 393.5 L976.5 393.4 L977.5 393.3 L978.6 393.2 L979.6 393.1 L980.6 393.1 L981.6 393.0 L982.7 392.9 L983.7 392.8 L984.7 392.8 L985.8 392.8 L986.8 392.7 L987.9 392.7 L988.9 392.7 L990.0 392.7 L991.0 392.6 L992.1 392.6 L993.1 392.7 L994.2 392.7 L995.2 392.7 L996.3 392.7 L997.3 392.8 L998.4 392.8 L999.5 392.9 L1000.6 392.9 L1001.6 393.0 L1002.7 393.1 L1003.8 393.2 L1004.9 393.3" stroke="#c2aad4" stroke-width="4.8"/>
<path d="M807.9 666.5 L808.2 665.6 L808.5 664.7 L808.8 663.8 L809.1 662.9 L809.4 661.9 L809.7 661.0 L810.0 660.1 L810.4 659.1 L810.7 658.2 L811.0 657.3 L811.3 656.4 L811.6 655.4 L811.9 654.5 L812.2 653.6 L812.5 652.6 L812.8 651.7 L813.1 650.8 L813.4 649.8 L813.8 648.9 L814.1 648.0 L814.4 647.0 L814.7 646.1 L815.0 645.1 L815.3 644.2 L815.6 643.3 L815.9 642.3 L816.3 641.4 L816.6 640.4 L816.9 639.5 L817.2 638.6 L817.5 637.6 L817.8 636.7 L818.1 635.7 L818.5 634.8 L818.8 633.8 L819.1 632.9 L819.4 632.0 L819.7 631.0 L820.1 630.1 L820.4 629.1 L820.7 628.2 L821.0 627.2 L821.4 626.3 L821.7 625.3 L822.0 624.4 L822.3 623.5 L822.7 622.5 L823.0 621.6 L823.3 620.6 L823.6 619.7 L824.0 618.7 L824.3 617.8 L824.6 616.8 L825.0 615.9 L825.3 614.9 L825.6 614.0 L826.0 613.0 L826.3 612.1 L826.6 611.1 L827.0 610.2 L827.3 609.2 L827.7 608.3 L828.0 607.3 L828.4 606.4 L828.7 605.5 L829.0 604.5 L829.4 603.6 L829.7 602.6 L830.1 601.7 L830.4 600.7 L830.8 599.8 L831.1 598.8 L831.5 597.9 L831.9 596.9 L832.2 596.0 L832.6 595.0 L832.9 594.1 L833.3 593.2 L833.6 592.2 L834.0 591.3 L834.4 590.3 L834.7 589.4 L835.1 588.4 L835.5 587.5 L835.8 586.6 L836.2 585.6 L836.6 584.7 L837.0 583.7 L837.3 582.8 L837.7 581.9 L838.1 580.9 L838.5 580.0 L838.9 579.0 L839.2 578.1 L839.6 577.2 L840.0 576.2 L840.4 575.3 L840.8 574.4 L841.2 573.4 L841.6 572.5 L842.0 571.6 L842.4 570.6 L842.8 569.7 L843.2 568.8 L843.6 567.8 L844.0 566.9 L844.4 566.0 L844.8 565.1 L845.2 564.1 L845.6 563.2 L846.0 562.3 L846.4 561.4 L846.9 560.4 L847.3 559.5 L847.7 558.6 L848.1 557.7 L848.6 556.7 L849.0 555.8 L849.4 554.9 L849.8 554.0 L850.3 553.1 L850.7 552.2 L851.1 551.3 L851.6 550.3 L852.0 549.4 L852.5 548.5 L852.9 547.6 L853.4 546.7 L853.8 545.8 L854.3 544.9 L854.7 544.0 L855.2 543.1 L855.6 542.2 L856.1 541.3 L856.6 540.4 L857.0 539.5 L857.5 538.6 L858.0 537.7 L858.4 536.8 L858.9 535.9 L859.4 535.0 L859.9 534.1 L860.3 533.2 L860.8 532.3 L861.3 531.5 L861.8 530.6 L862.3 529.7 L862.8 528.8 L863.3 527.9 L863.8 527.0 L864.3 526.2 L864.8 525.3 L865.3 524.4 L865.8 523.5 L866.3 522.7 L866.8 521.8 L867.3 520.9 L867.9 520.1 L868.4 519.2 L868.9 518.3 L869.4 517.5 L870.0 516.6 L870.5 515.7 L871.0 514.9 L871.6 514.0 L872.1 513.2 L872.7 512.3 L873.2 511.5 L873.8 510.6 L874.3 509.8 L874.9 508.9 L875.4 508.1 L876.0 507.3 L876.5 506.4 L877.1 505.6 L877.7 504.7 L878.3 503.9 L878.8 503.1 L879.4 502.3 L880.0 501.4 L880.6 500.6 L881.2 499.8 L881.7 499.0 L882.3 498.1 L882.9 497.3 L883.5 496.5 L884.1 495.7 L884.7 494.9 L885.3 494.1 L886.0 493.3 L886.6 492.5 L887.2 491.7 L887.8 490.9 L888.4 490.1 L889.0 489.3 L889.7 488.5 L890.3 487.8 L890.9 487.0 L891.6 486.2 L892.2 485.4 L892.9 484.7 L893.5 483.9 L894.2 483.1 L894.8 482.4 L895.5 481.6 L896.1 480.8 L896.8 480.1 L897.4 479.3 L898.1 478.6 L898.8 477.9 L899.5 477.1 L900.1 476.4 L900.8 475.7 L901.5 474.9 L902.2 474.2 L902.9 473.5 L903.6 472.8 L904.3 472.1 L905.0 471.3 L905.7 470.6 L906.4 469.9 L907.1 469.2 L907.8 468.5 L908.5 467.9 L909.2 467.2 L909.9 466.5 L910.7 465.8 L911.4 465.1 L912.1 464.5 L912.8 463.8 L913.6 463.1 L914.3 462.5 L915.1 461.8 L915.8 461.2 L916.6 460.5 L917.3 459.9 L918.1 459.3 L918.8 458.6 L919.6 458.0 L920.4 457.4 L921.1 456.8 L921.9 456.2 L922.7 455.5 L923.4 454.9 L924.2 454.3 L925.0 453.7 L925.8 453.2 L926.6 452.6 L927.4 452.0 L928.2 451.4 L929.0 450.9 L929.8 450.3 L930.6 449.7 L931.4 449.2 L932.2 448.6 L933.1 448.1 L933.9 447.5 L934.7 447.0 L935.5 446.5 L936.4 446.0 L937.2 445.4 L938.0 444.9 L938.9 444.4 L939.7 443.9 L940.6 443.4 L941.4 442.9 L942.3 442.5 L943.2 442.0 L944.0 441.5 L944.9 441.0 L945.8 440.6 L946.6 440.1 L947.5 439.7 L948.4 439.2 L949.3 438.8 L950.2 438.4 L951.1 437.9 L951.9 437.5 L952.8 437.1 L953.7 436.7 L954.7 436.3 L955.6 435.9 L956.5 435.5 L957.4 435.1 L958.3 434.7 L959.2 434.4 L960.2 434.0 L961.1 433.7 L962.0 433.3 L963.0 433.0 L963.9 432.6 L964.9 432.3 L965.8 432.0 L966.8 431.6 L967.7 431.3 L968.7 431.0 L969.6 430.7 L970.6 430.4 L971.6 430.2 L972.6 429.9 L973.5 429.6 L974.5 429.3 L975.5 429.1 L976.5 428.8 L977.5 428.6 L978.5 428.4 L979.5 428.1 L980.5 427.9 L981.5 427.7 L982.5 427.5 L983.5 427.3 L984.5 427.1 L985.6 426.9 L986.6 426.7 L987.6 426.6 L988.7 426.4 L989.7 426.3 L990.7 426.1 L991.8 426.0 L992.8 425.8 L993.9 425.7 L994.9 425.6 L996.0 425.5 L997.1 425.4 L998.1 425.3 L999.2 425.2 L1000.3 425.1 L1001.4 425.1 L1002.5 425.0 L1003.5 425.0 L1004.6 424.9" stroke="#561f83" stroke-width="4.8" stroke-dasharray="4.70 13.05" stroke-dashoffset="12.5"/>
<path d="M833.1 666.9 L833.4 666.0 L833.7 665.0 L834.1 664.1 L834.4 663.2 L834.7 662.2 L835.1 661.3 L835.4 660.4 L835.7 659.4 L836.1 658.5 L836.4 657.5 L836.8 656.6 L837.1 655.7 L837.4 654.7 L837.8 653.8 L838.1 652.9 L838.4 651.9 L838.8 651.0 L839.1 650.0 L839.5 649.1 L839.8 648.2 L840.1 647.2 L840.5 646.3 L840.8 645.3 L841.2 644.4 L841.5 643.5 L841.9 642.5 L842.2 641.6 L842.6 640.6 L842.9 639.7 L843.2 638.8 L843.6 637.8 L843.9 636.9 L844.3 635.9 L844.6 635.0 L845.0 634.1 L845.3 633.1 L845.7 632.2 L846.0 631.2 L846.4 630.3 L846.8 629.4 L847.1 628.4 L847.5 627.5 L847.8 626.5 L848.2 625.6 L848.5 624.7 L848.9 623.7 L849.3 622.8 L849.6 621.8 L850.0 620.9 L850.4 620.0 L850.7 619.0 L851.1 618.1 L851.5 617.2 L851.8 616.2 L852.2 615.3 L852.6 614.4 L853.0 613.4 L853.3 612.5 L853.7 611.5 L854.1 610.6 L854.5 609.7 L854.8 608.7 L855.2 607.8 L855.6 606.9 L856.0 606.0 L856.4 605.0 L856.8 604.1 L857.2 603.2 L857.5 602.2 L857.9 601.3 L858.3 600.4 L858.7 599.5 L859.1 598.5 L859.5 597.6 L859.9 596.7 L860.3 595.7 L860.7 594.8 L861.1 593.9 L861.5 593.0 L861.9 592.1 L862.4 591.1 L862.8 590.2 L863.2 589.3 L863.6 588.4 L864.0 587.5 L864.4 586.5 L864.9 585.6 L865.3 584.7 L865.7 583.8 L866.1 582.9 L866.6 582.0 L867.0 581.1 L867.4 580.2 L867.9 579.3 L868.3 578.3 L868.7 577.4 L869.2 576.5 L869.6 575.6 L870.1 574.7 L870.5 573.8 L870.9 572.9 L871.4 572.0 L871.9 571.1 L872.3 570.2 L872.8 569.3 L873.2 568.4 L873.7 567.5 L874.2 566.6 L874.6 565.7 L875.1 564.9 L875.6 564.0 L876.0 563.1 L876.5 562.2 L877.0 561.3 L877.5 560.4 L878.0 559.5 L878.4 558.7 L878.9 557.8 L879.4 556.9 L879.9 556.0 L880.4 555.2 L880.9 554.3 L881.4 553.4 L881.9 552.5 L882.4 551.7 L882.9 550.8 L883.4 549.9 L884.0 549.1 L884.5 548.2 L885.0 547.3 L885.5 546.5 L886.0 545.6 L886.6 544.8 L887.1 543.9 L887.6 543.0 L888.2 542.2 L888.7 541.3 L889.2 540.5 L889.8 539.7 L890.3 538.8 L890.9 538.0 L891.4 537.1 L892.0 536.3 L892.6 535.4 L893.1 534.6 L893.7 533.8 L894.3 532.9 L894.8 532.1 L895.4 531.3 L896.0 530.5 L896.6 529.6 L897.1 528.8 L897.7 528.0 L898.3 527.2 L898.9 526.4 L899.5 525.5 L900.1 524.7 L900.7 523.9 L901.3 523.1 L901.9 522.3 L902.6 521.5 L903.2 520.7 L903.8 519.9 L904.4 519.1 L905.0 518.3 L905.7 517.6 L906.3 516.8 L906.9 516.0 L907.6 515.2 L908.2 514.4 L908.9 513.7 L909.5 512.9 L910.2 512.1 L910.8 511.4 L911.5 510.6 L912.1 509.9 L912.8 509.1 L913.5 508.4 L914.2 507.6 L914.8 506.9 L915.5 506.2 L916.2 505.4 L916.9 504.7 L917.6 504.0 L918.3 503.3 L919.0 502.5 L919.7 501.8 L920.4 501.1 L921.1 500.4 L921.8 499.7 L922.5 499.0 L923.2 498.3 L924.0 497.6 L924.7 497.0 L925.4 496.3 L926.1 495.6 L926.9 494.9 L927.6 494.3 L928.4 493.6 L929.1 493.0 L929.9 492.3 L930.6 491.7 L931.4 491.0 L932.2 490.4 L932.9 489.8 L933.7 489.1 L934.5 488.5 L935.3 487.9 L936.0 487.3 L936.8 486.7 L937.6 486.1 L938.4 485.5 L939.2 484.9 L940.0 484.3 L940.8 483.7 L941.6 483.2 L942.4 482.6 L943.3 482.0 L944.1 481.5 L944.9 480.9 L945.7 480.4 L946.6 479.8 L947.4 479.3 L948.3 478.8 L949.1 478.3 L950.0 477.7 L950.8 477.2 L951.7 476.7 L952.5 476.2 L953.4 475.7 L954.3 475.3 L955.1 474.8 L956.0 474.3 L956.9 473.8 L957.8 473.4 L958.7 472.9 L959.5 472.5 L960.4 472.0 L961.3 471.6 L962.2 471.2 L963.1 470.8 L964.1 470.4 L965.0 469.9 L965.9 469.5 L966.8 469.2 L967.7 468.8 L968.7 468.4 L969.6 468.0 L970.5 467.7 L971.5 467.3 L972.4 466.9 L973.3 466.6 L974.3 466.3 L975.2 465.9 L976.2 465.6 L977.2 465.3 L978.1 465.0 L979.1 464.7 L980.1 464.4 L981.0 464.1 L982.0 463.8 L983.0 463.6 L984.0 463.3 L985.0 463.1 L986.0 462.8 L987.0 462.6 L987.9 462.3 L988.9 462.1 L990.0 461.9 L991.0 461.7 L992.0 461.5 L993.0 461.3 L994.0 461.1 L995.0 461.0 L996.1 460.8 L997.1 460.6 L998.1 460.5 L999.1 460.3 L1000.2 460.2 L1001.2 460.1 L1002.3 460.0 L1003.3 459.9 L1004.4 459.8" stroke="#f5f087" stroke-width="4.8" stroke-dasharray="21.55 13.05" stroke-dashoffset="29.1"/>
<path d="M853.6 666.6 L854.0 665.7 L854.3 664.8 L854.7 664.0 L855.0 663.1 L855.4 662.2 L855.8 661.3 L856.1 660.4 L856.5 659.5 L856.8 658.6 L857.2 657.7 L857.6 656.8 L857.9 655.9 L858.3 655.0 L858.7 654.1 L859.0 653.2 L859.4 652.2 L859.8 651.3 L860.1 650.4 L860.5 649.5 L860.9 648.6 L861.3 647.7 L861.6 646.8 L862.0 645.9 L862.4 645.0 L862.8 644.0 L863.2 643.1 L863.6 642.2 L864.0 641.3 L864.3 640.4 L864.7 639.4 L865.1 638.5 L865.5 637.6 L865.9 636.7 L866.3 635.8 L866.7 634.8 L867.1 633.9 L867.5 633.0 L867.9 632.1 L868.3 631.2 L868.7 630.2 L869.1 629.3 L869.5 628.4 L870.0 627.5 L870.4 626.5 L870.8 625.6 L871.2 624.7 L871.6 623.8 L872.0 622.9 L872.5 621.9 L872.9 621.0 L873.3 620.1 L873.8 619.2 L874.2 618.3 L874.6 617.3 L875.1 616.4 L875.5 615.5 L875.9 614.6 L876.4 613.7 L876.8 612.8 L877.3 611.8 L877.7 610.9 L878.2 610.0 L878.6 609.1 L879.1 608.2 L879.5 607.3 L880.0 606.4 L880.5 605.5 L880.9 604.5 L881.4 603.6 L881.9 602.7 L882.3 601.8 L882.8 600.9 L883.3 600.0 L883.8 599.1 L884.2 598.2 L884.7 597.3 L885.2 596.4 L885.7 595.5 L886.2 594.6 L886.7 593.7 L887.2 592.9 L887.7 592.0 L888.2 591.1 L888.7 590.2 L889.2 589.3 L889.7 588.4 L890.2 587.5 L890.7 586.7 L891.2 585.8 L891.8 584.9 L892.3 584.0 L892.8 583.2 L893.3 582.3 L893.9 581.4 L894.4 580.6 L894.9 579.7 L895.5 578.8 L896.0 578.0 L896.6 577.1 L897.1 576.3 L897.7 575.4 L898.2 574.6 L898.8 573.7 L899.3 572.9 L899.9 572.0 L900.5 571.2 L901.0 570.4 L901.6 569.5 L902.2 568.7 L902.8 567.9 L903.3 567.0 L903.9 566.2 L904.5 565.4 L905.1 564.6 L905.7 563.8 L906.3 562.9 L906.9 562.1 L907.5 561.3 L908.1 560.5 L908.7 559.7 L909.3 558.9 L910.0 558.1 L910.6 557.4 L911.2 556.6 L911.8 555.8 L912.5 555.0 L913.1 554.2 L913.7 553.5 L914.4 552.7 L915.0 551.9 L915.7 551.2 L916.3 550.4 L917.0 549.7 L917.6 548.9 L918.3 548.2 L919.0 547.4 L919.6 546.7 L920.3 545.9 L921.0 545.2 L921.7 544.5 L922.3 543.8 L923.0 543.0 L923.7 542.3 L924.4 541.6 L925.1 540.9 L925.8 540.2 L926.5 539.5 L927.2 538.8 L927.9 538.1 L928.7 537.4 L929.4 536.8 L930.1 536.1 L930.8 535.4 L931.6 534.7 L932.3 534.1 L933.0 533.4 L933.8 532.8 L934.5 532.1 L935.3 531.5 L936.0 530.8 L936.8 530.2 L937.6 529.6 L938.3 529.0 L939.1 528.4 L939.9 527.7 L940.7 527.1 L941.4 526.5 L942.2 525.9 L943.0 525.4 L943.8 524.8 L944.6 524.2 L945.4 523.6 L946.2 523.1 L947.0 522.5 L947.8 521.9 L948.6 521.4 L949.5 520.9 L950.3 520.3 L951.1 519.8 L952.0 519.3 L952.8 518.7 L953.6 518.2 L954.5 517.7 L955.3 517.2 L956.2 516.7 L957.1 516.2 L957.9 515.8 L958.8 515.3 L959.7 514.8 L960.5 514.4 L961.4 513.9 L962.3 513.5 L963.2 513.0 L964.1 512.6 L965.0 512.2 L965.9 511.7 L966.8 511.3 L967.7 510.9 L968.6 510.5 L969.5 510.1 L970.4 509.7 L971.4 509.4 L972.3 509.0 L973.2 508.6 L974.2 508.3 L975.1 507.9 L976.1 507.6 L977.0 507.2 L978.0 506.9 L978.9 506.6 L979.9 506.3 L980.9 506.0 L981.8 505.7 L982.8 505.4 L983.8 505.1 L984.8 504.8 L985.8 504.6 L986.8 504.3 L987.8 504.1 L988.8 503.8 L989.8 503.6 L990.8 503.4 L991.8 503.2 L992.8 502.9 L993.9 502.7 L994.9 502.6 L995.9 502.4 L997.0 502.2 L998.0 502.0 L999.1 501.9 L1000.1 501.7 L1001.2 501.6 L1002.3 501.5 L1003.3 501.3 L1004.4 501.2" stroke="#8b441d" stroke-width="4.8" stroke-dasharray="28.90 13.05" stroke-dashoffset="36.4"/>
<path d="M876.4 666.6 L876.8 665.8 L877.1 664.9 L877.5 664.0 L877.9 663.1 L878.3 662.2 L878.7 661.4 L879.1 660.5 L879.5 659.6 L879.9 658.7 L880.3 657.8 L880.7 656.9 L881.1 656.0 L881.5 655.1 L881.9 654.3 L882.4 653.4 L882.8 652.5 L883.2 651.6 L883.6 650.7 L884.1 649.8 L884.5 648.9 L885.0 648.0 L885.4 647.1 L885.9 646.2 L886.3 645.3 L886.8 644.5 L887.3 643.6 L887.7 642.7 L888.2 641.8 L888.7 640.9 L889.1 640.0 L889.6 639.1 L890.1 638.2 L890.6 637.3 L891.1 636.5 L891.6 635.6 L892.1 634.7 L892.6 633.8 L893.1 632.9 L893.6 632.0 L894.1 631.2 L894.7 630.3 L895.2 629.4 L895.7 628.5 L896.2 627.7 L896.8 626.8 L897.3 625.9 L897.9 625.1 L898.4 624.2 L899.0 623.3 L899.5 622.5 L900.1 621.6 L900.6 620.8 L901.2 619.9 L901.8 619.1 L902.3 618.2 L902.9 617.4 L903.5 616.5 L904.1 615.7 L904.7 614.8 L905.3 614.0 L905.9 613.2 L906.5 612.3 L907.1 611.5 L907.7 610.7 L908.3 609.9 L908.9 609.0 L909.5 608.2 L910.2 607.4 L910.8 606.6 L911.4 605.8 L912.1 605.0 L912.7 604.2 L913.3 603.4 L914.0 602.6 L914.6 601.8 L915.3 601.0 L915.9 600.3 L916.6 599.5 L917.3 598.7 L917.9 598.0 L918.6 597.2 L919.3 596.4 L920.0 595.7 L920.7 594.9 L921.4 594.2 L922.1 593.4 L922.8 592.7 L923.5 592.0 L924.2 591.3 L924.9 590.5 L925.6 589.8 L926.3 589.1 L927.0 588.4 L927.8 587.7 L928.5 587.0 L929.2 586.3 L930.0 585.6 L930.7 584.9 L931.4 584.3 L932.2 583.6 L932.9 582.9 L933.7 582.3 L934.5 581.6 L935.2 581.0 L936.0 580.3 L936.8 579.7 L937.6 579.1 L938.3 578.5 L939.1 577.8 L939.9 577.2 L940.7 576.6 L941.5 576.0 L942.3 575.4 L943.1 574.9 L943.9 574.3 L944.7 573.7 L945.5 573.2 L946.4 572.6 L947.2 572.0 L948.0 571.5 L948.9 571.0 L949.7 570.4 L950.5 569.9 L951.4 569.4 L952.2 568.9 L953.1 568.4 L953.9 567.9 L954.8 567.4 L955.7 566.9 L956.5 566.5 L957.4 566.0 L958.3 565.6 L959.2 565.1 L960.1 564.7 L961.0 564.3 L961.9 563.8 L962.8 563.4 L963.7 563.0 L964.6 562.6 L965.5 562.2 L966.4 561.9 L967.3 561.5 L968.2 561.1 L969.2 560.8 L970.1 560.4 L971.0 560.1 L972.0 559.8 L972.9 559.4 L973.9 559.1 L974.8 558.8 L975.8 558.6 L976.7 558.3 L977.7 558.0 L978.7 557.7 L979.6 557.5 L980.6 557.2 L981.6 557.0 L982.6 556.8 L983.6 556.6 L984.6 556.4 L985.6 556.2 L986.6 556.0 L987.6 555.8 L988.6 555.7 L989.6 555.5 L990.6 555.4 L991.6 555.2 L992.7 555.1 L993.7 555.0 L994.7 554.9 L995.8 554.8 L996.8 554.7 L997.9 554.6 L998.9 554.6 L1000.0 554.5 L1001.0 554.5 L1002.1 554.5 L1003.2 554.5 L1004.2 554.5" stroke="#acc5e2" stroke-width="4.8" stroke-dasharray="4.70 13.05 21.55 13.05" stroke-dashoffset="47.9"/>
<path d="M918.1 667.2 L918.8 666.4 L919.5 665.7 L920.2 664.9 L920.9 664.2 L921.6 663.4 L922.3 662.7 L923.0 662.0 L923.8 661.3 L924.5 660.5 L925.2 659.8 L926.0 659.1 L926.7 658.5 L927.5 657.8 L928.2 657.1 L929.0 656.4 L929.8 655.8 L930.6 655.1 L931.3 654.5 L932.1 653.9 L932.9 653.2 L933.7 652.6 L934.5 652.0 L935.3 651.4 L936.1 650.8 L937.0 650.2 L937.8 649.6 L938.6 649.1 L939.5 648.5 L940.3 648.0 L941.1 647.4 L942.0 646.9 L942.8 646.3 L943.7 645.8 L944.6 645.3 L945.4 644.8 L946.3 644.3 L947.2 643.8 L948.1 643.3 L949.0 642.8 L949.8 642.3 L950.7 641.8 L951.6 641.4 L952.5 640.9 L953.4 640.5 L954.3 640.0 L955.3 639.6 L956.2 639.2 L957.1 638.8 L958.0 638.4 L958.9 638.0 L959.9 637.6 L960.8 637.2 L961.7 636.8 L962.7 636.4 L963.6 636.1 L964.6 635.7 L965.5 635.3 L966.5 635.0 L967.4 634.7 L968.4 634.3 L969.3 634.0 L970.3 633.7 L971.2 633.4 L972.2 633.1 L973.2 632.8 L974.2 632.5 L975.1 632.2 L976.1 631.9 L977.1 631.7 L978.1 631.4 L979.0 631.2 L980.0 630.9 L981.0 630.7 L982.0 630.4 L983.0 630.2 L984.0 630.0 L985.0 629.8 L986.0 629.6 L987.0 629.4 L988.0 629.2 L988.9 629.0 L989.9 628.9 L990.9 628.7 L992.0 628.5 L993.0 628.4 L994.0 628.2 L995.0 628.1 L996.0 627.9 L997.0 627.8 L998.0 627.7 L999.0 627.6 L1000.0 627.5 L1001.0 627.4 L1002.0 627.3 L1003.0 627.2 L1004.0 627.1" stroke="#2f57a2" stroke-width="4.8" stroke-dasharray="4.70 13.05 28.90 13.05" stroke-dashoffset="52.4"/>
<path d="M144.9 10.9 L145.8 11.4 L146.6 12.0 L147.5 12.5 L148.4 13.1 L149.2 13.6 L150.1 14.1 L150.9 14.7 L151.8 15.2 L152.6 15.8 L153.5 16.3 L154.3 16.8 L155.2 17.4 L156.0 17.9 L156.9 18.5 L157.7 19.0 L158.6 19.5 L159.4 20.1 L160.2 20.6 L161.1 21.2 L161.9 21.7 L162.8 22.3 L163.6 22.8 L164.4 23.3 L165.3 23.9 L166.1 24.4 L166.9 25.0 L167.8 25.5 L168.6 26.1 L169.4 26.6 L170.2 27.2 L171.1 27.7 L171.9 28.3 L172.7 28.8 L173.5 29.4 L174.4 30.0 L175.2 30.5 L176.0 31.1 L176.8 31.6 L177.6 32.2 L178.5 32.7 L179.3 33.3 L180.1 33.9 L180.9 34.4 L181.7 35.0 L182.5 35.6 L183.3 36.1 L184.2 36.7 L185.0 37.3 L185.8 37.8 L186.6 38.4 L187.4 39.0 L188.2 39.5 L189.0 40.1 L189.8 40.7 L190.6 41.3 L191.4 41.8 L192.2 42.4 L193.1 43.0 L193.9 43.6 L194.7 44.2 L195.5 44.8 L196.3 45.3 L197.1 45.9 L197.9 46.5 L198.7 47.1 L199.5 47.7 L200.3 48.3 L201.1 48.9 L201.9 49.5 L202.7 50.1 L203.5 50.7 L204.3 51.3 L205.1 51.9 L205.9 52.5 L206.7 53.1 L207.5 53.7 L208.3 54.3 L209.1 55.0 L209.9 55.6 L210.7 56.2 L211.5 56.8 L212.3 57.4 L213.1 58.0 L213.9 58.6 L214.7 59.3 L215.5 59.9 L216.3 60.5 L217.1 61.1 L217.9 61.7 L218.7 62.4 L219.5 63.0 L220.3 63.6 L221.1 64.2 L221.9 64.9 L222.6 65.5 L223.4 66.1 L224.2 66.7 L225.0 67.3 L225.8 68.0 L226.6 68.6 L227.4 69.2 L228.2 69.8 L229.0 70.5 L229.8 71.1 L230.6 71.7 L231.4 72.3 L232.2 73.0 L233.0 73.6 L233.8 74.2 L234.7 74.8 L235.5 75.4 L236.3 76.1 L237.1 76.7 L237.9 77.3 L238.7 77.9 L239.5 78.5 L240.3 79.2 L241.1 79.8 L241.9 80.4 L242.7 81.0 L243.5 81.6 L244.3 82.2 L245.1 82.9 L245.9 83.5 L246.7 84.1 L247.6 84.7 L248.4 85.3 L249.2 85.9 L250.0 86.5 L250.8 87.1 L251.6 87.7 L252.4 88.3 L253.2 88.9 L254.1 89.5 L254.9 90.1 L255.7 90.7 L256.5 91.3 L257.3 91.9 L258.2 92.5 L259.0 93.0 L259.8 93.6 L260.6 94.2 L261.4 94.8 L262.3 95.4 L263.1 95.9 L263.9 96.5 L264.8 97.1 L265.6 97.7 L266.4 98.2 L267.2 98.8 L268.1 99.4 L268.9 99.9 L269.7 100.5 L270.6 101.0 L271.4 101.6 L272.3 102.1 L273.1 102.7 L273.9 103.2 L274.8 103.8 L275.6 104.3 L276.5 104.8 L277.3 105.4 L278.2 105.9 L279.0 106.4 L279.9 106.9 L280.7 107.5 L281.6 108.0 L282.4 108.5 L283.3 109.0 L284.1 109.5 L285.0 110.0 L285.8 110.5 L286.7 111.0 L287.6 111.5 L288.4 112.0 L289.3 112.5 L290.2 113.0 L291.0 113.4 L291.9 113.9 L292.8 114.4 L293.6 114.8 L294.5 115.3 L295.4 115.8 L296.3 116.2 L297.1 116.7 L298.0 117.1 L298.9 117.6 L299.8 118.0 L300.7 118.4 L301.6 118.8 L302.5 119.3 L303.3 119.7 L304.2 120.1 L305.1 120.5 L306.0 120.9 L306.9 121.3 L307.8 121.7 L308.7 122.1 L309.6 122.5 L310.5 122.9 L311.5 123.3 L312.4 123.6 L313.3 124.0 L314.2 124.4 L315.1 124.7 L316.0 125.1 L316.9 125.4 L317.9 125.8 L318.8 126.1 L319.7 126.4 L320.6 126.7 L321.6 127.1 L322.5 127.4 L323.4 127.7 L324.4 128.0 L325.3 128.3 L326.3 128.6 L327.2 128.9 L328.2 129.1 L329.1 129.4 L330.0 129.7 L331.0 130.0 L332.0 130.2 L332.9 130.5 L333.9 130.7 L334.8 131.0 L335.8 131.2 L336.8 131.4 L337.7 131.7 L338.7 131.9 L339.7 132.1 L340.6 132.3 L341.6 132.5 L342.6 132.8 L343.5 133.0 L344.5 133.2 L345.5 133.3 L346.5 133.5 L347.5 133.7 L348.4 133.9 L349.4 134.1 L350.4 134.3 L351.4 134.4 L352.4 134.6 L353.4 134.8 L354.4 134.9 L355.4 135.1 L356.3 135.2 L357.3 135.4 L358.3 135.5 L359.3 135.7 L360.3 135.8 L361.3 136.0 L362.3 136.1 L363.3 136.2 L364.3 136.4 L365.3 136.5 L366.3 136.6 L367.3 136.8 L368.3 136.9 L369.3 137.0 L370.3 137.1 L371.3 137.2 L372.3 137.4 L373.3 137.5 L374.3 137.6 L375.4 137.7 L376.4 137.8 L377.4 137.9 L378.4 138.0 L379.4 138.1 L380.4 138.2 L381.4 138.3 L382.4 138.4 L383.4 138.5 L384.4 138.6 L385.4 138.7 L386.4 138.8 L387.5 138.9 L388.5 139.0 L389.5 139.1 L390.5 139.2 L391.5 139.2 L392.5 139.3 L393.5 139.4 L394.5 139.5 L395.5 139.6 L396.5 139.7 L397.5 139.8 L398.5 139.9 L399.6 140.0 L400.6 140.1 L401.6 140.1 L402.6 140.2 L403.6 140.3 L404.6 140.4 L405.6 140.5 L406.6 140.6 L407.6 140.7 L408.6 140.8 L409.6 140.9 L410.6 141.0 L411.6 141.1 L412.6 141.1 L413.6 141.2 L414.6 141.3 L415.6 141.4 L416.6 141.5 L417.6 141.6 L418.6 141.7 L419.6 141.8 L420.6 141.8 L421.6 141.9 L422.6 142.0 L423.6 142.1 L424.6 142.2 L425.6 142.3 L426.6 142.3 L427.6 142.4 L428.6 142.5 L429.6 142.6 L430.6 142.7 L431.6 142.7 L432.6 142.8 L433.6 142.9 L434.6 142.9 L435.6 143.0 L436.6 143.1 L437.6 143.1 L438.6 143.2 L439.6 143.3 L440.6 143.3 L441.6 143.4 L442.6 143.4 L443.6 143.5 L444.6 143.6 L445.6 143.6 L446.6 143.7 L447.5 143.7 L448.5 143.7 L449.5 143.8 L450.5 143.8 L451.5 143.9 L452.5 143.9 L453.5 143.9 L454.5 144.0 L455.5 144.0 L456.5 144.0 L457.5 144.1 L458.5 144.1 L459.5 144.1 L460.5 144.1 L461.5 144.1 L462.5 144.1 L463.5 144.2 L464.5 144.2 L465.5 144.2 L466.5 144.2 L467.5 144.2 L468.5 144.2 L469.5 144.2 L470.5 144.2 L471.5 144.2 L472.5 144.2 L473.5 144.2 L474.5 144.2 L475.5 144.2 L476.5 144.2 L477.5 144.2 L478.5 144.2 L479.5 144.2 L480.5 144.1 L481.5 144.1 L482.5 144.1 L483.5 144.1 L484.5 144.1 L485.5 144.1 L486.5 144.0 L487.5 144.0 L488.5 144.0 L489.5 144.0 L490.5 144.0 L491.5 143.9 L492.5 143.9 L493.5 143.9 L494.5 143.9 L495.5 143.8 L496.5 143.8 L497.5 143.8 L498.5 143.7 L499.5 143.7 L500.5 143.7 L501.5 143.6 L502.5 143.6 L503.5 143.6 L504.5 143.5 L505.5 143.5 L506.5 143.5 L507.5 143.4 L508.5 143.4 L509.5 143.4 L510.5 143.3 L511.5 143.3 L512.5 143.2 L513.5 143.2 L514.5 143.2 L515.5 143.1 L516.5 143.1 L517.5 143.1 L518.5 143.0 L519.5 143.0 L520.5 142.9 L521.5 142.9 L522.5 142.9 L523.5 142.8 L524.5 142.8 L525.5 142.7 L526.5 142.7 L527.5 142.7 L528.5 142.6 L529.5 142.6 L530.5 142.6 L531.5 142.5 L532.5 142.5 L533.5 142.4 L534.5 142.4 L535.5 142.4 L536.5 142.3 L537.5 142.3 L538.5 142.3 L539.5 142.2 L540.5 142.2 L541.5 142.2 L542.5 142.1 L543.5 142.1 L544.5 142.1 L545.5 142.1 L546.5 142.0 L547.5 142.0 L548.5 142.0 L549.5 141.9 L550.5 141.9 L551.5 141.9 L552.5 141.9 L553.5 141.9 L554.5 141.8 L555.5 141.8 L556.5 141.8 L557.5 141.8 L558.5 141.8 L559.5 141.7 L560.5 141.7 L561.5 141.7 L562.5 141.7 L563.5 141.7 L564.5 141.7 L565.5 141.7 L566.6 141.7 L567.6 141.6 L568.6 141.6 L569.6 141.6 L570.6 141.6 L571.6 141.6 L572.6 141.6 L573.6 141.6 L574.6 141.6 L575.6 141.6 L576.6 141.6 L577.6 141.6 L578.6 141.6 L579.6 141.6 L580.6 141.6 L581.6 141.6 L582.6 141.6 L583.6 141.7 L584.6 141.7 L585.6 141.7 L586.6 141.7 L587.6 141.7 L588.6 141.7 L589.6 141.7 L590.6 141.7 L591.6 141.8 L592.6 141.8 L593.6 141.8 L594.6 141.8 L595.6 141.8 L596.6 141.9 L597.6 141.9 L598.6 141.9 L599.6 141.9 L600.6 142.0 L601.6 142.0 L602.6 142.0 L603.6 142.0 L604.6 142.1 L605.6 142.1 L606.6 142.1 L607.6 142.2 L608.6 142.2 L609.6 142.2 L610.6 142.3 L611.6 142.3 L612.6 142.4 L613.6 142.4 L614.6 142.4 L615.6 142.5 L616.6 142.5 L617.6 142.6 L618.6 142.6 L619.6 142.7 L620.6 142.7 L621.6 142.8 L622.6 142.8 L623.6 142.9 L624.6 142.9 L625.6 143.0 L626.6 143.1 L627.6 143.1 L628.6 143.2 L629.5 143.2 L630.5 143.3 L631.5 143.4 L632.5 143.4 L633.5 143.5 L634.5 143.6 L635.5 143.6 L636.5 143.7 L637.5 143.8 L638.5 143.8 L639.5 143.9 L640.5 144.0 L641.5 144.1 L642.5 144.1 L643.5 144.2 L644.5 144.3 L645.5 144.4 L646.5 144.5 L647.5 144.5 L648.5 144.6 L649.5 144.7 L650.5 144.8 L651.5 144.9 L652.5 145.0 L653.5 145.1 L654.5 145.2 L655.5 145.3 L656.5 145.3 L657.5 145.4 L658.4 145.5 L659.4 145.6 L660.4 145.7 L661.4 145.8 L662.4 145.9 L663.4 146.1 L664.4 146.2 L665.4 146.3 L666.4 146.4 L667.4 146.5 L668.4 146.6 L669.4 146.7 L670.4 146.8 L671.4 146.9 L672.4 147.1 L673.4 147.2 L674.3 147.3 L675.3 147.4 L676.3 147.5 L677.3 147.7 L678.3 147.8 L679.3 147.9 L680.3 148.0 L681.3 148.2 L682.3 148.3 L683.3 148.4 L684.3 148.6 L685.3 148.7 L686.3 148.8 L687.2 149.0 L688.2 149.1 L689.2 149.3 L690.2 149.4 L691.2 149.5 L692.2 149.7 L693.2 149.8 L694.2 150.0 L695.2 150.1 L696.2 150.3 L697.1 150.4 L698.1 150.6 L699.1 150.7 L700.1 150.9 L701.1 151.0 L702.1 151.2 L703.1 151.3 L704.1 151.5 L705.1 151.6 L706.1 151.8 L707.0 151.9 L708.0 152.1 L709.0 152.3 L710.0 152.4 L711.0 152.6 L712.0 152.7 L713.0 152.9 L714.0 153.1 L715.0 153.2 L715.9 153.4 L716.9 153.6 L717.9 153.7 L718.9 153.9 L719.9 154.1 L720.9 154.2 L721.9 154.4 L722.9 154.6 L723.8 154.8 L724.8 154.9 L725.8 155.1 L726.8 155.3 L727.8 155.4 L728.8 155.6 L729.8 155.8 L730.8 156.0 L731.7 156.1 L732.7 156.3 L733.7 156.5 L734.7 156.7 L735.7 156.9 L736.7 157.0 L737.7 157.2 L738.6 157.4 L739.6 157.6 L740.6 157.7 L741.6 157.9 L742.6 158.1 L743.6 158.3 L744.6 158.5 L745.6 158.7 L746.5 158.8 L747.5 159.0 L748.5 159.2 L749.5 159.4 L750.5 159.6 L751.5 159.7 L752.5 159.9 L753.4 160.1 L754.4 160.3 L755.4 160.5 L756.4 160.7 L757.4 160.8 L758.4 161.0 L759.4 161.2 L760.4 161.4 L761.3 161.6 L762.3 161.8 L763.3 162.0 L764.3 162.1 L765.3 162.3 L766.3 162.5 L767.3 162.7 L768.2 162.9 L769.2 163.1 L770.2 163.2 L771.2 163.4 L772.2 163.6 L773.2 163.8 L774.2 164.0 L775.1 164.2 L776.1 164.3 L777.1 164.5 L778.1 164.7 L779.1 164.9 L780.1 165.1 L781.1 165.2 L782.0 165.4 L783.0 165.6 L784.0 165.8 L785.0 166.0 L786.0 166.2 L787.0 166.3 L788.0 166.5 L789.0 166.7 L789.9 166.9 L790.9 167.0 L791.9 167.2 L792.9 167.4 L793.9 167.6 L794.9 167.8 L795.9 167.9 L796.8 168.1 L797.8 168.3 L798.8 168.5 L799.8 168.6 L800.8 168.8 L801.8 169.0 L802.8 169.2 L803.8 169.3 L804.7 169.5 L805.7 169.7 L806.7 169.8 L807.7 170.0 L808.7 170.2 L809.7 170.3 L810.7 170.5 L811.7 170.7 L812.6 170.8 L813.6 171.0 L814.6 171.2 L815.6 171.3 L816.6 171.5 L817.6 171.7 L818.6 171.8 L819.6 172.0 L820.5 172.2 L821.5 172.3 L822.5 172.5 L823.5 172.7 L824.5 172.8 L825.5 173.0 L826.5 173.2 L827.5 173.3 L828.4 173.5 L829.4 173.7 L830.4 173.8 L831.4 174.0 L832.4 174.2 L833.4 174.3 L834.4 174.5 L835.4 174.7 L836.3 174.8 L837.3 175.0 L838.3 175.2 L839.3 175.3 L840.3 175.5 L841.3 175.7 L842.3 175.8 L843.3 176.0 L844.2 176.2 L845.2 176.3 L846.2 176.5 L847.2 176.7 L848.2 176.8 L849.2 177.0 L850.2 177.2 L851.1 177.3 L852.1 177.5 L853.1 177.7 L854.1 177.9 L855.1 178.0 L856.1 178.2 L857.1 178.4 L858.0 178.6 L859.0 178.7 L860.0 178.9 L861.0 179.1 L862.0 179.3 L863.0 179.4 L863.9 179.6 L864.9 179.8 L865.9 180.0 L866.9 180.1 L867.9 180.3 L868.9 180.5 L869.8 180.7 L870.8 180.9 L871.8 181.1 L872.8 181.2 L873.8 181.4 L874.8 181.6 L875.7 181.8 L876.7 182.0 L877.7 182.2 L878.7 182.4 L879.7 182.6 L880.6 182.8 L881.6 183.0 L882.6 183.1 L883.6 183.3 L884.6 183.5 L885.5 183.7 L886.5 183.9 L887.5 184.1 L888.5 184.3 L889.5 184.5 L890.4 184.7 L891.4 185.0 L892.4 185.2 L893.4 185.4 L894.3 185.6 L895.3 185.8 L896.3 186.0 L897.3 186.2 L898.3 186.4 L899.2 186.6 L900.2 186.9 L901.2 187.1 L902.2 187.3 L903.1 187.5 L904.1 187.8 L905.1 188.0 L906.1 188.2 L907.0 188.4 L908.0 188.7 L909.0 188.9 L909.9 189.1 L910.9 189.4 L911.9 189.6 L912.9 189.8 L913.8 190.1 L914.8 190.3 L915.8 190.6 L916.7 190.8 L917.7 191.1 L918.7 191.3 L919.7 191.6 L920.6 191.8 L921.6 192.1 L922.6 192.3 L923.5 192.6 L924.5 192.8 L925.5 193.1 L926.4 193.4 L927.4 193.6 L928.4 193.9 L929.3 194.2 L930.3 194.4 L931.3 194.7 L932.2 195.0 L933.2 195.3 L934.2 195.6 L935.1 195.8 L936.1 196.1 L937.1 196.4 L938.0 196.7 L939.0 197.0 L939.9 197.3 L940.9 197.5 L941.9 197.8 L942.8 198.1 L943.8 198.4 L944.7 198.7 L945.7 199.0 L946.7 199.3 L947.6 199.6 L948.6 199.9 L949.5 200.2 L950.5 200.5 L951.5 200.8 L952.4 201.1 L953.4 201.4 L954.3 201.7 L955.3 202.0 L956.3 202.3 L957.2 202.6 L958.2 202.9 L959.1 203.2 L960.1 203.5 L961.1 203.8 L962.0 204.1 L963.0 204.4 L963.9 204.7 L964.9 205.1 L965.8 205.4 L966.8 205.7 L967.7 206.0 L968.7 206.3 L969.7 206.6 L970.6 206.9 L971.6 207.2 L972.5 207.5 L973.5 207.8 L974.4 208.1 L975.4 208.4 L976.3 208.7 L977.3 209.0 L978.3 209.4 L979.2 209.7 L980.2 210.0 L981.1 210.3 L982.1 210.6 L983.0 210.9 L984.0 211.2 L984.9 211.5 L985.9 211.8 L986.8 212.1 L987.8 212.4 L988.8 212.7 L989.7 213.0 L990.7 213.3 L991.6 213.6 L992.6 213.9 L993.5 214.2 L994.5 214.5 L995.4 214.7 L996.4 215.0 L997.3 215.3 L998.3 215.6 L999.2 215.9 L1000.2 216.2 L1001.2 216.5 L1002.1 216.7 L1003.1 217.0 L1004.0 217.3" stroke="#0b0b08" stroke-width="8.6"/>
</g>
<g stroke="#0b0b08" stroke-width="2.7" fill="none">
<path d="M256.55 663.0 V632.1 M256.55 1.2 V32.7 M363.20 663.0 V632.1 M363.20 1.2 V32.7 M469.85 663.0 V632.1 M469.85 1.2 V32.7 M576.50 663.0 V632.1 M576.50 1.2 V32.7 M683.15 663.0 V632.1 M683.15 1.2 V32.7 M789.80 663.0 V632.1 M789.80 1.2 V32.7 M896.45 663.0 V632.1 M896.45 1.2 V32.7 M149.1 512.95 H180.4 M999.7 512.95 H968.6 M149.1 363.20 H180.4 M999.7 363.20 H968.6 M149.1 213.45 H180.4 M999.7 213.45 H968.6 M149.1 63.70 H180.4 M999.7 63.70 H968.6 M149.9 663.0 V632.1 M149.1 662.1 H180.4 M149.9 1.2 V32.7 M999.7 662.1 H968.6"/>
</g>
<rect x="149.1" y="1.2" width="850.6" height="661.8" fill="none" stroke="#0b0b08" stroke-width="3.0"/>
<rect x="192.2" y="218.2" width="112.6" height="401.4" fill="#fff" stroke="#0b0b08" stroke-width="2.4"/>
<g font-size="21" stroke="#0b0b08" stroke-width="0.5">
<path d="M206 235.4 H234.6" stroke="#acc5e2" stroke-width="4.8" fill="none"/>
<text transform="translate(248.4 243.1) scale(1 1.05)">n=15</text>
<path d="M206 259.9 H234.6" stroke="#2f57a2" stroke-width="4.8" stroke-dasharray="4.70 13.05" fill="none"/>
<text transform="translate(248.4 267.6) scale(1 1.05)">n=14</text>
<path d="M206 284.3 H234.6" stroke="#b3d274" stroke-width="4.8" stroke-dasharray="21.55 13.05" fill="none"/>
<text transform="translate(248.4 292.0) scale(1 1.05)">n=13</text>
<path d="M206 308.8 H234.6" stroke="#4a8a2c" stroke-width="4.8" stroke-dasharray="28.90 13.05" fill="none"/>
<text transform="translate(248.4 316.5) scale(1 1.05)">n=12</text>
<path d="M206 333.2 H234.6" stroke="#d98f95" stroke-width="4.8" stroke-dasharray="4.70 13.05 21.55 13.05" fill="none"/>
<text transform="translate(248.4 340.9) scale(1 1.05)">n=11</text>
<path d="M206 357.7 H234.6" stroke="#ad1720" stroke-width="4.8" stroke-dasharray="4.70 13.05 28.90 13.05" fill="none"/>
<text transform="translate(248.4 365.4) scale(1 1.05)">n=10</text>
<path d="M206 382.2 H234.6" stroke="#e8ba5d" stroke-width="4.8" stroke-dasharray="4.70 13.05 21.55 13.05 4.70 13.05" fill="none"/>
<text transform="translate(248.4 389.9) scale(1 1.05)">n=9</text>
<path d="M206 406.6 H234.6" stroke="#cc6d1c" stroke-width="4.8" stroke-dasharray="21.55 13.05 4.70 13.05 21.55 13.05" fill="none"/>
<text transform="translate(248.4 414.3) scale(1 1.05)">n=8</text>
<path d="M206 431.1 H234.6" stroke="#c2aad4" stroke-width="4.8" fill="none"/>
<text transform="translate(248.4 438.8) scale(1 1.05)">n=7</text>
<path d="M206 455.5 H234.6" stroke="#561f83" stroke-width="4.8" stroke-dasharray="4.70 13.05" fill="none"/>
<text transform="translate(248.4 463.2) scale(1 1.05)">n=6</text>
<path d="M206 480.0 H234.6" stroke="#f5f087" stroke-width="4.8" stroke-dasharray="21.55 13.05" fill="none"/>
<text transform="translate(248.4 487.7) scale(1 1.05)">n=5</text>
<path d="M206 504.5 H234.6" stroke="#8b441d" stroke-width="4.8" stroke-dasharray="28.90 13.05" fill="none"/>
<text transform="translate(248.4 512.2) scale(1 1.05)">n=4</text>
<path d="M206 528.9 H234.6" stroke="#acc5e2" stroke-width="4.8" stroke-dasharray="4.70 13.05 21.55 13.05" fill="none"/>
<text transform="translate(248.4 536.6) scale(1 1.05)">n=3</text>
<path d="M206 553.4 H234.6" stroke="#2f57a2" stroke-width="4.8" stroke-dasharray="4.70 13.05 28.90 13.05" fill="none"/>
<text transform="translate(248.4 561.1) scale(1 1.05)">n=2</text>
<path d="M206 577.8 H234.6" stroke="#b3d274" stroke-width="4.8" stroke-dasharray="4.70 13.05 21.55 13.05 4.70 13.05" fill="none"/>
<text transform="translate(248.4 585.5) scale(1 1.05)">n=1</text>
<path d="M206 602.3 H234.6" stroke="#0b0b08" stroke-width="8.8" fill="none"/>
<text transform="translate(248.6 610.1) scale(1.07 1.05)">Total</text>
</g>
<g stroke="#0b0b08" stroke-width="0.6">
<text transform="translate(112.2 721.0) scale(1 1.035)" font-size="44" text-anchor="start">10</text>
<text transform="translate(161.4 694.8) scale(1 1.035)" font-size="32" text-anchor="start">-3</text>
<text transform="translate(218.9 721.0) scale(1 1.035)" font-size="44" text-anchor="start">10</text>
<text transform="translate(268.1 694.8) scale(1 1.035)" font-size="32" text-anchor="start">-2</text>
<text transform="translate(325.5 721.0) scale(1 1.035)" font-size="44" text-anchor="start">10</text>
<text transform="translate(374.7 694.8) scale(1 1.035)" font-size="32" text-anchor="start">-1</text>
<text transform="translate(438.7 721.0) scale(1 1.035)" font-size="44" text-anchor="start">10</text>
<text transform="translate(485.9 694.8) scale(1 1.035)" font-size="32" text-anchor="start">0</text>
<text transform="translate(546.8 721.0) scale(1 1.035)" font-size="44" text-anchor="start">10</text>
<text transform="translate(594.5 694.8) scale(1 1.035)" font-size="32" text-anchor="start">1</text>
<text transform="translate(652.0 721.0) scale(1 1.035)" font-size="44" text-anchor="start">10</text>
<text transform="translate(699.2 694.8) scale(1 1.035)" font-size="32" text-anchor="start">2</text>
<text transform="translate(758.6 721.0) scale(1 1.035)" font-size="44" text-anchor="start">10</text>
<text transform="translate(805.8 694.8) scale(1 1.035)" font-size="32" text-anchor="start">3</text>
<text transform="translate(865.2 721.0) scale(1 1.035)" font-size="44" text-anchor="start">10</text>
<text transform="translate(912.5 694.8) scale(1 1.035)" font-size="32" text-anchor="start">4</text>
<text transform="translate(143.3 660.1) scale(1 1.035)" font-size="32" text-anchor="end">-1</text>
<text transform="translate(118.0 686.6) scale(1 1.035)" font-size="44" text-anchor="end">10</text>
<text transform="translate(141.8 510.4) scale(1 1.035)" font-size="32" text-anchor="end">0</text>
<text transform="translate(123.2 536.9) scale(1 1.035)" font-size="44" text-anchor="end">10</text>
<text transform="translate(143.8 360.6) scale(1 1.035)" font-size="32" text-anchor="end">1</text>
<text transform="translate(128.2 387.1) scale(1 1.035)" font-size="44" text-anchor="end">10</text>
<text transform="translate(141.8 210.9) scale(1 1.035)" font-size="32" text-anchor="end">2</text>
<text transform="translate(123.2 237.4) scale(1 1.035)" font-size="44" text-anchor="end">10</text>
<text transform="translate(141.8 61.1) scale(1 1.035)" font-size="32" text-anchor="end">3</text>
<text transform="translate(123.2 87.6) scale(1 1.035)" font-size="44" text-anchor="end">10</text>
<text transform="translate(576.5 777.5) scale(1 1.025)" font-size="46.2" text-anchor="middle" stroke-width="0.8">Energy (eV/u)</text>
<text transform="translate(51.6 328) rotate(-90) scale(1 1.020)" font-size="46.2" text-anchor="middle" stroke-width="0.8">Cross Section (10<tspan font-size="32.8" dy="-27">-16</tspan><tspan dy="27"> cm</tspan><tspan font-size="32.8" dy="-27">2</tspan><tspan dy="27">)</tspan></text>
</g>
</svg></body></html>
